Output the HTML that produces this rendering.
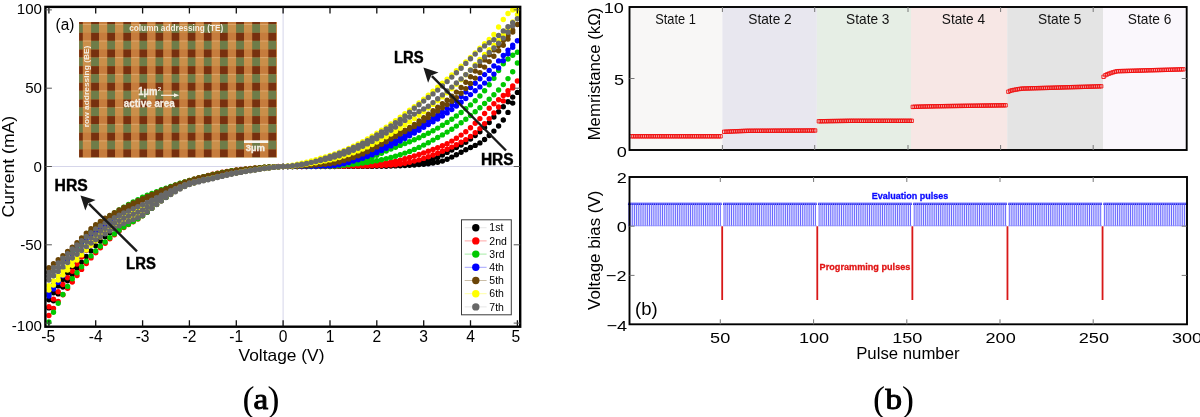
<!DOCTYPE html>
<html><head><meta charset="utf-8"><title>Figure</title>
<style>html,body{margin:0;padding:0;background:#fff;}svg{display:block;}</style>
</head><body>
<svg width="1200" height="417" viewBox="0 0 1200 417">
<rect x="0" y="0" width="1200" height="417" fill="#fff"/>
<line x1="45.4" y1="166.5" x2="520.2" y2="166.5" stroke="#d6d6ea" stroke-width="1"/>
<line x1="283.1" y1="6.9" x2="283.1" y2="326.7" stroke="#d6d6ea" stroke-width="1"/>
<g><clipPath id="ic"><rect x="79.1" y="22.0" width="197.79999999999998" height="135.6"/></clipPath>
<g clip-path="url(#ic)">
<rect x="79.1" y="22.0" width="197.79999999999998" height="135.6" fill="#c98a42"/>
<rect x="74.99" y="-9.10" width="7.90" height="8.65" fill="#6e7c48"/>
<rect x="74.99" y="-0.45" width="7.90" height="8.00" fill="#77300f"/>
<rect x="82.89" y="-9.10" width="8.21" height="8.65" fill="#ca8f4a"/>
<rect x="82.89" y="-0.45" width="8.21" height="8.00" fill="#c67c3d"/>
<rect x="82.89" y="-9.40" width="8.21" height="0.9" fill="#dfac74"/>
<rect x="91.10" y="-9.10" width="7.90" height="8.65" fill="#6e7c48"/>
<rect x="91.10" y="-0.45" width="7.90" height="8.00" fill="#77300f"/>
<rect x="99.00" y="-9.10" width="8.21" height="8.65" fill="#ca8f4a"/>
<rect x="99.00" y="-0.45" width="8.21" height="8.00" fill="#c67c3d"/>
<rect x="99.00" y="-9.40" width="8.21" height="0.9" fill="#dfac74"/>
<rect x="107.21" y="-9.10" width="7.90" height="8.65" fill="#6e7c48"/>
<rect x="107.21" y="-0.45" width="7.90" height="8.00" fill="#77300f"/>
<rect x="115.11" y="-9.10" width="8.21" height="8.65" fill="#ca8f4a"/>
<rect x="115.11" y="-0.45" width="8.21" height="8.00" fill="#c67c3d"/>
<rect x="115.11" y="-9.40" width="8.21" height="0.9" fill="#dfac74"/>
<rect x="123.32" y="-9.10" width="7.90" height="8.65" fill="#6e7c48"/>
<rect x="123.32" y="-0.45" width="7.90" height="8.00" fill="#77300f"/>
<rect x="131.22" y="-9.10" width="8.21" height="8.65" fill="#ca8f4a"/>
<rect x="131.22" y="-0.45" width="8.21" height="8.00" fill="#c67c3d"/>
<rect x="131.22" y="-9.40" width="8.21" height="0.9" fill="#dfac74"/>
<rect x="139.43" y="-9.10" width="7.90" height="8.65" fill="#6e7c48"/>
<rect x="139.43" y="-0.45" width="7.90" height="8.00" fill="#77300f"/>
<rect x="147.33" y="-9.10" width="8.21" height="8.65" fill="#ca8f4a"/>
<rect x="147.33" y="-0.45" width="8.21" height="8.00" fill="#c67c3d"/>
<rect x="147.33" y="-9.40" width="8.21" height="0.9" fill="#dfac74"/>
<rect x="155.54" y="-9.10" width="7.90" height="8.65" fill="#6e7c48"/>
<rect x="155.54" y="-0.45" width="7.90" height="8.00" fill="#77300f"/>
<rect x="163.44" y="-9.10" width="8.21" height="8.65" fill="#ca8f4a"/>
<rect x="163.44" y="-0.45" width="8.21" height="8.00" fill="#c67c3d"/>
<rect x="163.44" y="-9.40" width="8.21" height="0.9" fill="#dfac74"/>
<rect x="171.65" y="-9.10" width="7.90" height="8.65" fill="#6e7c48"/>
<rect x="171.65" y="-0.45" width="7.90" height="8.00" fill="#77300f"/>
<rect x="179.55" y="-9.10" width="8.21" height="8.65" fill="#ca8f4a"/>
<rect x="179.55" y="-0.45" width="8.21" height="8.00" fill="#c67c3d"/>
<rect x="179.55" y="-9.40" width="8.21" height="0.9" fill="#dfac74"/>
<rect x="187.76" y="-9.10" width="7.90" height="8.65" fill="#6e7c48"/>
<rect x="187.76" y="-0.45" width="7.90" height="8.00" fill="#77300f"/>
<rect x="195.66" y="-9.10" width="8.21" height="8.65" fill="#ca8f4a"/>
<rect x="195.66" y="-0.45" width="8.21" height="8.00" fill="#c67c3d"/>
<rect x="195.66" y="-9.40" width="8.21" height="0.9" fill="#dfac74"/>
<rect x="203.87" y="-9.10" width="7.90" height="8.65" fill="#6e7c48"/>
<rect x="203.87" y="-0.45" width="7.90" height="8.00" fill="#77300f"/>
<rect x="211.77" y="-9.10" width="8.21" height="8.65" fill="#ca8f4a"/>
<rect x="211.77" y="-0.45" width="8.21" height="8.00" fill="#c67c3d"/>
<rect x="211.77" y="-9.40" width="8.21" height="0.9" fill="#dfac74"/>
<rect x="219.98" y="-9.10" width="7.90" height="8.65" fill="#6e7c48"/>
<rect x="219.98" y="-0.45" width="7.90" height="8.00" fill="#77300f"/>
<rect x="227.88" y="-9.10" width="8.21" height="8.65" fill="#ca8f4a"/>
<rect x="227.88" y="-0.45" width="8.21" height="8.00" fill="#c67c3d"/>
<rect x="227.88" y="-9.40" width="8.21" height="0.9" fill="#dfac74"/>
<rect x="236.09" y="-9.10" width="7.90" height="8.65" fill="#6e7c48"/>
<rect x="236.09" y="-0.45" width="7.90" height="8.00" fill="#77300f"/>
<rect x="243.99" y="-9.10" width="8.21" height="8.65" fill="#ca8f4a"/>
<rect x="243.99" y="-0.45" width="8.21" height="8.00" fill="#c67c3d"/>
<rect x="243.99" y="-9.40" width="8.21" height="0.9" fill="#dfac74"/>
<rect x="252.20" y="-9.10" width="7.90" height="8.65" fill="#6e7c48"/>
<rect x="252.20" y="-0.45" width="7.90" height="8.00" fill="#77300f"/>
<rect x="260.10" y="-9.10" width="8.21" height="8.65" fill="#ca8f4a"/>
<rect x="260.10" y="-0.45" width="8.21" height="8.00" fill="#c67c3d"/>
<rect x="260.10" y="-9.40" width="8.21" height="0.9" fill="#dfac74"/>
<rect x="268.31" y="-9.10" width="7.90" height="8.65" fill="#6e7c48"/>
<rect x="268.31" y="-0.45" width="7.90" height="8.00" fill="#77300f"/>
<rect x="276.21" y="-9.10" width="8.21" height="8.65" fill="#ca8f4a"/>
<rect x="276.21" y="-0.45" width="8.21" height="8.00" fill="#c67c3d"/>
<rect x="276.21" y="-9.40" width="8.21" height="0.9" fill="#dfac74"/>
<rect x="284.42" y="-9.10" width="7.90" height="8.65" fill="#6e7c48"/>
<rect x="284.42" y="-0.45" width="7.90" height="8.00" fill="#77300f"/>
<rect x="292.32" y="-9.10" width="8.21" height="8.65" fill="#ca8f4a"/>
<rect x="292.32" y="-0.45" width="8.21" height="8.00" fill="#c67c3d"/>
<rect x="292.32" y="-9.40" width="8.21" height="0.9" fill="#dfac74"/>
<rect x="74.99" y="7.55" width="7.90" height="8.65" fill="#6e7c48"/>
<rect x="74.99" y="16.20" width="7.90" height="8.00" fill="#77300f"/>
<rect x="82.89" y="7.55" width="8.21" height="8.65" fill="#ca8f4a"/>
<rect x="82.89" y="16.20" width="8.21" height="8.00" fill="#c67c3d"/>
<rect x="82.89" y="7.25" width="8.21" height="0.9" fill="#dfac74"/>
<rect x="91.10" y="7.55" width="7.90" height="8.65" fill="#6e7c48"/>
<rect x="91.10" y="16.20" width="7.90" height="8.00" fill="#77300f"/>
<rect x="99.00" y="7.55" width="8.21" height="8.65" fill="#ca8f4a"/>
<rect x="99.00" y="16.20" width="8.21" height="8.00" fill="#c67c3d"/>
<rect x="99.00" y="7.25" width="8.21" height="0.9" fill="#dfac74"/>
<rect x="107.21" y="7.55" width="7.90" height="8.65" fill="#6e7c48"/>
<rect x="107.21" y="16.20" width="7.90" height="8.00" fill="#77300f"/>
<rect x="115.11" y="7.55" width="8.21" height="8.65" fill="#ca8f4a"/>
<rect x="115.11" y="16.20" width="8.21" height="8.00" fill="#c67c3d"/>
<rect x="115.11" y="7.25" width="8.21" height="0.9" fill="#dfac74"/>
<rect x="123.32" y="7.55" width="7.90" height="8.65" fill="#6e7c48"/>
<rect x="123.32" y="16.20" width="7.90" height="8.00" fill="#77300f"/>
<rect x="131.22" y="7.55" width="8.21" height="8.65" fill="#ca8f4a"/>
<rect x="131.22" y="16.20" width="8.21" height="8.00" fill="#c67c3d"/>
<rect x="131.22" y="7.25" width="8.21" height="0.9" fill="#dfac74"/>
<rect x="139.43" y="7.55" width="7.90" height="8.65" fill="#6e7c48"/>
<rect x="139.43" y="16.20" width="7.90" height="8.00" fill="#77300f"/>
<rect x="147.33" y="7.55" width="8.21" height="8.65" fill="#ca8f4a"/>
<rect x="147.33" y="16.20" width="8.21" height="8.00" fill="#c67c3d"/>
<rect x="147.33" y="7.25" width="8.21" height="0.9" fill="#dfac74"/>
<rect x="155.54" y="7.55" width="7.90" height="8.65" fill="#6e7c48"/>
<rect x="155.54" y="16.20" width="7.90" height="8.00" fill="#77300f"/>
<rect x="163.44" y="7.55" width="8.21" height="8.65" fill="#ca8f4a"/>
<rect x="163.44" y="16.20" width="8.21" height="8.00" fill="#c67c3d"/>
<rect x="163.44" y="7.25" width="8.21" height="0.9" fill="#dfac74"/>
<rect x="171.65" y="7.55" width="7.90" height="8.65" fill="#6e7c48"/>
<rect x="171.65" y="16.20" width="7.90" height="8.00" fill="#77300f"/>
<rect x="179.55" y="7.55" width="8.21" height="8.65" fill="#ca8f4a"/>
<rect x="179.55" y="16.20" width="8.21" height="8.00" fill="#c67c3d"/>
<rect x="179.55" y="7.25" width="8.21" height="0.9" fill="#dfac74"/>
<rect x="187.76" y="7.55" width="7.90" height="8.65" fill="#6e7c48"/>
<rect x="187.76" y="16.20" width="7.90" height="8.00" fill="#77300f"/>
<rect x="195.66" y="7.55" width="8.21" height="8.65" fill="#ca8f4a"/>
<rect x="195.66" y="16.20" width="8.21" height="8.00" fill="#c67c3d"/>
<rect x="195.66" y="7.25" width="8.21" height="0.9" fill="#dfac74"/>
<rect x="203.87" y="7.55" width="7.90" height="8.65" fill="#6e7c48"/>
<rect x="203.87" y="16.20" width="7.90" height="8.00" fill="#77300f"/>
<rect x="211.77" y="7.55" width="8.21" height="8.65" fill="#ca8f4a"/>
<rect x="211.77" y="16.20" width="8.21" height="8.00" fill="#c67c3d"/>
<rect x="211.77" y="7.25" width="8.21" height="0.9" fill="#dfac74"/>
<rect x="219.98" y="7.55" width="7.90" height="8.65" fill="#6e7c48"/>
<rect x="219.98" y="16.20" width="7.90" height="8.00" fill="#77300f"/>
<rect x="227.88" y="7.55" width="8.21" height="8.65" fill="#ca8f4a"/>
<rect x="227.88" y="16.20" width="8.21" height="8.00" fill="#c67c3d"/>
<rect x="227.88" y="7.25" width="8.21" height="0.9" fill="#dfac74"/>
<rect x="236.09" y="7.55" width="7.90" height="8.65" fill="#6e7c48"/>
<rect x="236.09" y="16.20" width="7.90" height="8.00" fill="#77300f"/>
<rect x="243.99" y="7.55" width="8.21" height="8.65" fill="#ca8f4a"/>
<rect x="243.99" y="16.20" width="8.21" height="8.00" fill="#c67c3d"/>
<rect x="243.99" y="7.25" width="8.21" height="0.9" fill="#dfac74"/>
<rect x="252.20" y="7.55" width="7.90" height="8.65" fill="#6e7c48"/>
<rect x="252.20" y="16.20" width="7.90" height="8.00" fill="#77300f"/>
<rect x="260.10" y="7.55" width="8.21" height="8.65" fill="#ca8f4a"/>
<rect x="260.10" y="16.20" width="8.21" height="8.00" fill="#c67c3d"/>
<rect x="260.10" y="7.25" width="8.21" height="0.9" fill="#dfac74"/>
<rect x="268.31" y="7.55" width="7.90" height="8.65" fill="#6e7c48"/>
<rect x="268.31" y="16.20" width="7.90" height="8.00" fill="#77300f"/>
<rect x="276.21" y="7.55" width="8.21" height="8.65" fill="#ca8f4a"/>
<rect x="276.21" y="16.20" width="8.21" height="8.00" fill="#c67c3d"/>
<rect x="276.21" y="7.25" width="8.21" height="0.9" fill="#dfac74"/>
<rect x="284.42" y="7.55" width="7.90" height="8.65" fill="#6e7c48"/>
<rect x="284.42" y="16.20" width="7.90" height="8.00" fill="#77300f"/>
<rect x="292.32" y="7.55" width="8.21" height="8.65" fill="#ca8f4a"/>
<rect x="292.32" y="16.20" width="8.21" height="8.00" fill="#c67c3d"/>
<rect x="292.32" y="7.25" width="8.21" height="0.9" fill="#dfac74"/>
<rect x="74.99" y="24.20" width="7.90" height="8.65" fill="#6e7c48"/>
<rect x="74.99" y="32.85" width="7.90" height="8.00" fill="#77300f"/>
<rect x="82.89" y="24.20" width="8.21" height="8.65" fill="#ca8f4a"/>
<rect x="82.89" y="32.85" width="8.21" height="8.00" fill="#c67c3d"/>
<rect x="82.89" y="23.90" width="8.21" height="0.9" fill="#dfac74"/>
<rect x="91.10" y="24.20" width="7.90" height="8.65" fill="#6e7c48"/>
<rect x="91.10" y="32.85" width="7.90" height="8.00" fill="#77300f"/>
<rect x="99.00" y="24.20" width="8.21" height="8.65" fill="#ca8f4a"/>
<rect x="99.00" y="32.85" width="8.21" height="8.00" fill="#c67c3d"/>
<rect x="99.00" y="23.90" width="8.21" height="0.9" fill="#dfac74"/>
<rect x="107.21" y="24.20" width="7.90" height="8.65" fill="#6e7c48"/>
<rect x="107.21" y="32.85" width="7.90" height="8.00" fill="#77300f"/>
<rect x="115.11" y="24.20" width="8.21" height="8.65" fill="#ca8f4a"/>
<rect x="115.11" y="32.85" width="8.21" height="8.00" fill="#c67c3d"/>
<rect x="115.11" y="23.90" width="8.21" height="0.9" fill="#dfac74"/>
<rect x="123.32" y="24.20" width="7.90" height="8.65" fill="#6e7c48"/>
<rect x="123.32" y="32.85" width="7.90" height="8.00" fill="#77300f"/>
<rect x="131.22" y="24.20" width="8.21" height="8.65" fill="#ca8f4a"/>
<rect x="131.22" y="32.85" width="8.21" height="8.00" fill="#c67c3d"/>
<rect x="131.22" y="23.90" width="8.21" height="0.9" fill="#dfac74"/>
<rect x="139.43" y="24.20" width="7.90" height="8.65" fill="#6e7c48"/>
<rect x="139.43" y="32.85" width="7.90" height="8.00" fill="#77300f"/>
<rect x="147.33" y="24.20" width="8.21" height="8.65" fill="#ca8f4a"/>
<rect x="147.33" y="32.85" width="8.21" height="8.00" fill="#c67c3d"/>
<rect x="147.33" y="23.90" width="8.21" height="0.9" fill="#dfac74"/>
<rect x="155.54" y="24.20" width="7.90" height="8.65" fill="#6e7c48"/>
<rect x="155.54" y="32.85" width="7.90" height="8.00" fill="#77300f"/>
<rect x="163.44" y="24.20" width="8.21" height="8.65" fill="#ca8f4a"/>
<rect x="163.44" y="32.85" width="8.21" height="8.00" fill="#c67c3d"/>
<rect x="163.44" y="23.90" width="8.21" height="0.9" fill="#dfac74"/>
<rect x="171.65" y="24.20" width="7.90" height="8.65" fill="#6e7c48"/>
<rect x="171.65" y="32.85" width="7.90" height="8.00" fill="#77300f"/>
<rect x="179.55" y="24.20" width="8.21" height="8.65" fill="#ca8f4a"/>
<rect x="179.55" y="32.85" width="8.21" height="8.00" fill="#c67c3d"/>
<rect x="179.55" y="23.90" width="8.21" height="0.9" fill="#dfac74"/>
<rect x="187.76" y="24.20" width="7.90" height="8.65" fill="#6e7c48"/>
<rect x="187.76" y="32.85" width="7.90" height="8.00" fill="#77300f"/>
<rect x="195.66" y="24.20" width="8.21" height="8.65" fill="#ca8f4a"/>
<rect x="195.66" y="32.85" width="8.21" height="8.00" fill="#c67c3d"/>
<rect x="195.66" y="23.90" width="8.21" height="0.9" fill="#dfac74"/>
<rect x="203.87" y="24.20" width="7.90" height="8.65" fill="#6e7c48"/>
<rect x="203.87" y="32.85" width="7.90" height="8.00" fill="#77300f"/>
<rect x="211.77" y="24.20" width="8.21" height="8.65" fill="#ca8f4a"/>
<rect x="211.77" y="32.85" width="8.21" height="8.00" fill="#c67c3d"/>
<rect x="211.77" y="23.90" width="8.21" height="0.9" fill="#dfac74"/>
<rect x="219.98" y="24.20" width="7.90" height="8.65" fill="#6e7c48"/>
<rect x="219.98" y="32.85" width="7.90" height="8.00" fill="#77300f"/>
<rect x="227.88" y="24.20" width="8.21" height="8.65" fill="#ca8f4a"/>
<rect x="227.88" y="32.85" width="8.21" height="8.00" fill="#c67c3d"/>
<rect x="227.88" y="23.90" width="8.21" height="0.9" fill="#dfac74"/>
<rect x="236.09" y="24.20" width="7.90" height="8.65" fill="#6e7c48"/>
<rect x="236.09" y="32.85" width="7.90" height="8.00" fill="#77300f"/>
<rect x="243.99" y="24.20" width="8.21" height="8.65" fill="#ca8f4a"/>
<rect x="243.99" y="32.85" width="8.21" height="8.00" fill="#c67c3d"/>
<rect x="243.99" y="23.90" width="8.21" height="0.9" fill="#dfac74"/>
<rect x="252.20" y="24.20" width="7.90" height="8.65" fill="#6e7c48"/>
<rect x="252.20" y="32.85" width="7.90" height="8.00" fill="#77300f"/>
<rect x="260.10" y="24.20" width="8.21" height="8.65" fill="#ca8f4a"/>
<rect x="260.10" y="32.85" width="8.21" height="8.00" fill="#c67c3d"/>
<rect x="260.10" y="23.90" width="8.21" height="0.9" fill="#dfac74"/>
<rect x="268.31" y="24.20" width="7.90" height="8.65" fill="#6e7c48"/>
<rect x="268.31" y="32.85" width="7.90" height="8.00" fill="#77300f"/>
<rect x="276.21" y="24.20" width="8.21" height="8.65" fill="#ca8f4a"/>
<rect x="276.21" y="32.85" width="8.21" height="8.00" fill="#c67c3d"/>
<rect x="276.21" y="23.90" width="8.21" height="0.9" fill="#dfac74"/>
<rect x="284.42" y="24.20" width="7.90" height="8.65" fill="#6e7c48"/>
<rect x="284.42" y="32.85" width="7.90" height="8.00" fill="#77300f"/>
<rect x="292.32" y="24.20" width="8.21" height="8.65" fill="#ca8f4a"/>
<rect x="292.32" y="32.85" width="8.21" height="8.00" fill="#c67c3d"/>
<rect x="292.32" y="23.90" width="8.21" height="0.9" fill="#dfac74"/>
<rect x="74.99" y="40.85" width="7.90" height="8.65" fill="#6e7c48"/>
<rect x="74.99" y="49.50" width="7.90" height="8.00" fill="#77300f"/>
<rect x="82.89" y="40.85" width="8.21" height="8.65" fill="#ca8f4a"/>
<rect x="82.89" y="49.50" width="8.21" height="8.00" fill="#c67c3d"/>
<rect x="82.89" y="40.55" width="8.21" height="0.9" fill="#dfac74"/>
<rect x="91.10" y="40.85" width="7.90" height="8.65" fill="#6e7c48"/>
<rect x="91.10" y="49.50" width="7.90" height="8.00" fill="#77300f"/>
<rect x="99.00" y="40.85" width="8.21" height="8.65" fill="#ca8f4a"/>
<rect x="99.00" y="49.50" width="8.21" height="8.00" fill="#c67c3d"/>
<rect x="99.00" y="40.55" width="8.21" height="0.9" fill="#dfac74"/>
<rect x="107.21" y="40.85" width="7.90" height="8.65" fill="#6e7c48"/>
<rect x="107.21" y="49.50" width="7.90" height="8.00" fill="#77300f"/>
<rect x="115.11" y="40.85" width="8.21" height="8.65" fill="#ca8f4a"/>
<rect x="115.11" y="49.50" width="8.21" height="8.00" fill="#c67c3d"/>
<rect x="115.11" y="40.55" width="8.21" height="0.9" fill="#dfac74"/>
<rect x="123.32" y="40.85" width="7.90" height="8.65" fill="#6e7c48"/>
<rect x="123.32" y="49.50" width="7.90" height="8.00" fill="#77300f"/>
<rect x="131.22" y="40.85" width="8.21" height="8.65" fill="#ca8f4a"/>
<rect x="131.22" y="49.50" width="8.21" height="8.00" fill="#c67c3d"/>
<rect x="131.22" y="40.55" width="8.21" height="0.9" fill="#dfac74"/>
<rect x="139.43" y="40.85" width="7.90" height="8.65" fill="#6e7c48"/>
<rect x="139.43" y="49.50" width="7.90" height="8.00" fill="#77300f"/>
<rect x="147.33" y="40.85" width="8.21" height="8.65" fill="#ca8f4a"/>
<rect x="147.33" y="49.50" width="8.21" height="8.00" fill="#c67c3d"/>
<rect x="147.33" y="40.55" width="8.21" height="0.9" fill="#dfac74"/>
<rect x="155.54" y="40.85" width="7.90" height="8.65" fill="#6e7c48"/>
<rect x="155.54" y="49.50" width="7.90" height="8.00" fill="#77300f"/>
<rect x="163.44" y="40.85" width="8.21" height="8.65" fill="#ca8f4a"/>
<rect x="163.44" y="49.50" width="8.21" height="8.00" fill="#c67c3d"/>
<rect x="163.44" y="40.55" width="8.21" height="0.9" fill="#dfac74"/>
<rect x="171.65" y="40.85" width="7.90" height="8.65" fill="#6e7c48"/>
<rect x="171.65" y="49.50" width="7.90" height="8.00" fill="#77300f"/>
<rect x="179.55" y="40.85" width="8.21" height="8.65" fill="#ca8f4a"/>
<rect x="179.55" y="49.50" width="8.21" height="8.00" fill="#c67c3d"/>
<rect x="179.55" y="40.55" width="8.21" height="0.9" fill="#dfac74"/>
<rect x="187.76" y="40.85" width="7.90" height="8.65" fill="#6e7c48"/>
<rect x="187.76" y="49.50" width="7.90" height="8.00" fill="#77300f"/>
<rect x="195.66" y="40.85" width="8.21" height="8.65" fill="#ca8f4a"/>
<rect x="195.66" y="49.50" width="8.21" height="8.00" fill="#c67c3d"/>
<rect x="195.66" y="40.55" width="8.21" height="0.9" fill="#dfac74"/>
<rect x="203.87" y="40.85" width="7.90" height="8.65" fill="#6e7c48"/>
<rect x="203.87" y="49.50" width="7.90" height="8.00" fill="#77300f"/>
<rect x="211.77" y="40.85" width="8.21" height="8.65" fill="#ca8f4a"/>
<rect x="211.77" y="49.50" width="8.21" height="8.00" fill="#c67c3d"/>
<rect x="211.77" y="40.55" width="8.21" height="0.9" fill="#dfac74"/>
<rect x="219.98" y="40.85" width="7.90" height="8.65" fill="#6e7c48"/>
<rect x="219.98" y="49.50" width="7.90" height="8.00" fill="#77300f"/>
<rect x="227.88" y="40.85" width="8.21" height="8.65" fill="#ca8f4a"/>
<rect x="227.88" y="49.50" width="8.21" height="8.00" fill="#c67c3d"/>
<rect x="227.88" y="40.55" width="8.21" height="0.9" fill="#dfac74"/>
<rect x="236.09" y="40.85" width="7.90" height="8.65" fill="#6e7c48"/>
<rect x="236.09" y="49.50" width="7.90" height="8.00" fill="#77300f"/>
<rect x="243.99" y="40.85" width="8.21" height="8.65" fill="#ca8f4a"/>
<rect x="243.99" y="49.50" width="8.21" height="8.00" fill="#c67c3d"/>
<rect x="243.99" y="40.55" width="8.21" height="0.9" fill="#dfac74"/>
<rect x="252.20" y="40.85" width="7.90" height="8.65" fill="#6e7c48"/>
<rect x="252.20" y="49.50" width="7.90" height="8.00" fill="#77300f"/>
<rect x="260.10" y="40.85" width="8.21" height="8.65" fill="#ca8f4a"/>
<rect x="260.10" y="49.50" width="8.21" height="8.00" fill="#c67c3d"/>
<rect x="260.10" y="40.55" width="8.21" height="0.9" fill="#dfac74"/>
<rect x="268.31" y="40.85" width="7.90" height="8.65" fill="#6e7c48"/>
<rect x="268.31" y="49.50" width="7.90" height="8.00" fill="#77300f"/>
<rect x="276.21" y="40.85" width="8.21" height="8.65" fill="#ca8f4a"/>
<rect x="276.21" y="49.50" width="8.21" height="8.00" fill="#c67c3d"/>
<rect x="276.21" y="40.55" width="8.21" height="0.9" fill="#dfac74"/>
<rect x="284.42" y="40.85" width="7.90" height="8.65" fill="#6e7c48"/>
<rect x="284.42" y="49.50" width="7.90" height="8.00" fill="#77300f"/>
<rect x="292.32" y="40.85" width="8.21" height="8.65" fill="#ca8f4a"/>
<rect x="292.32" y="49.50" width="8.21" height="8.00" fill="#c67c3d"/>
<rect x="292.32" y="40.55" width="8.21" height="0.9" fill="#dfac74"/>
<rect x="74.99" y="57.50" width="7.90" height="8.65" fill="#6e7c48"/>
<rect x="74.99" y="66.15" width="7.90" height="8.00" fill="#77300f"/>
<rect x="82.89" y="57.50" width="8.21" height="8.65" fill="#ca8f4a"/>
<rect x="82.89" y="66.15" width="8.21" height="8.00" fill="#c67c3d"/>
<rect x="82.89" y="57.20" width="8.21" height="0.9" fill="#dfac74"/>
<rect x="91.10" y="57.50" width="7.90" height="8.65" fill="#6e7c48"/>
<rect x="91.10" y="66.15" width="7.90" height="8.00" fill="#77300f"/>
<rect x="99.00" y="57.50" width="8.21" height="8.65" fill="#ca8f4a"/>
<rect x="99.00" y="66.15" width="8.21" height="8.00" fill="#c67c3d"/>
<rect x="99.00" y="57.20" width="8.21" height="0.9" fill="#dfac74"/>
<rect x="107.21" y="57.50" width="7.90" height="8.65" fill="#6e7c48"/>
<rect x="107.21" y="66.15" width="7.90" height="8.00" fill="#77300f"/>
<rect x="115.11" y="57.50" width="8.21" height="8.65" fill="#ca8f4a"/>
<rect x="115.11" y="66.15" width="8.21" height="8.00" fill="#c67c3d"/>
<rect x="115.11" y="57.20" width="8.21" height="0.9" fill="#dfac74"/>
<rect x="123.32" y="57.50" width="7.90" height="8.65" fill="#6e7c48"/>
<rect x="123.32" y="66.15" width="7.90" height="8.00" fill="#77300f"/>
<rect x="131.22" y="57.50" width="8.21" height="8.65" fill="#ca8f4a"/>
<rect x="131.22" y="66.15" width="8.21" height="8.00" fill="#c67c3d"/>
<rect x="131.22" y="57.20" width="8.21" height="0.9" fill="#dfac74"/>
<rect x="139.43" y="57.50" width="7.90" height="8.65" fill="#6e7c48"/>
<rect x="139.43" y="66.15" width="7.90" height="8.00" fill="#77300f"/>
<rect x="147.33" y="57.50" width="8.21" height="8.65" fill="#ca8f4a"/>
<rect x="147.33" y="66.15" width="8.21" height="8.00" fill="#c67c3d"/>
<rect x="147.33" y="57.20" width="8.21" height="0.9" fill="#dfac74"/>
<rect x="155.54" y="57.50" width="7.90" height="8.65" fill="#6e7c48"/>
<rect x="155.54" y="66.15" width="7.90" height="8.00" fill="#77300f"/>
<rect x="163.44" y="57.50" width="8.21" height="8.65" fill="#ca8f4a"/>
<rect x="163.44" y="66.15" width="8.21" height="8.00" fill="#c67c3d"/>
<rect x="163.44" y="57.20" width="8.21" height="0.9" fill="#dfac74"/>
<rect x="171.65" y="57.50" width="7.90" height="8.65" fill="#6e7c48"/>
<rect x="171.65" y="66.15" width="7.90" height="8.00" fill="#77300f"/>
<rect x="179.55" y="57.50" width="8.21" height="8.65" fill="#ca8f4a"/>
<rect x="179.55" y="66.15" width="8.21" height="8.00" fill="#c67c3d"/>
<rect x="179.55" y="57.20" width="8.21" height="0.9" fill="#dfac74"/>
<rect x="187.76" y="57.50" width="7.90" height="8.65" fill="#6e7c48"/>
<rect x="187.76" y="66.15" width="7.90" height="8.00" fill="#77300f"/>
<rect x="195.66" y="57.50" width="8.21" height="8.65" fill="#ca8f4a"/>
<rect x="195.66" y="66.15" width="8.21" height="8.00" fill="#c67c3d"/>
<rect x="195.66" y="57.20" width="8.21" height="0.9" fill="#dfac74"/>
<rect x="203.87" y="57.50" width="7.90" height="8.65" fill="#6e7c48"/>
<rect x="203.87" y="66.15" width="7.90" height="8.00" fill="#77300f"/>
<rect x="211.77" y="57.50" width="8.21" height="8.65" fill="#ca8f4a"/>
<rect x="211.77" y="66.15" width="8.21" height="8.00" fill="#c67c3d"/>
<rect x="211.77" y="57.20" width="8.21" height="0.9" fill="#dfac74"/>
<rect x="219.98" y="57.50" width="7.90" height="8.65" fill="#6e7c48"/>
<rect x="219.98" y="66.15" width="7.90" height="8.00" fill="#77300f"/>
<rect x="227.88" y="57.50" width="8.21" height="8.65" fill="#ca8f4a"/>
<rect x="227.88" y="66.15" width="8.21" height="8.00" fill="#c67c3d"/>
<rect x="227.88" y="57.20" width="8.21" height="0.9" fill="#dfac74"/>
<rect x="236.09" y="57.50" width="7.90" height="8.65" fill="#6e7c48"/>
<rect x="236.09" y="66.15" width="7.90" height="8.00" fill="#77300f"/>
<rect x="243.99" y="57.50" width="8.21" height="8.65" fill="#ca8f4a"/>
<rect x="243.99" y="66.15" width="8.21" height="8.00" fill="#c67c3d"/>
<rect x="243.99" y="57.20" width="8.21" height="0.9" fill="#dfac74"/>
<rect x="252.20" y="57.50" width="7.90" height="8.65" fill="#6e7c48"/>
<rect x="252.20" y="66.15" width="7.90" height="8.00" fill="#77300f"/>
<rect x="260.10" y="57.50" width="8.21" height="8.65" fill="#ca8f4a"/>
<rect x="260.10" y="66.15" width="8.21" height="8.00" fill="#c67c3d"/>
<rect x="260.10" y="57.20" width="8.21" height="0.9" fill="#dfac74"/>
<rect x="268.31" y="57.50" width="7.90" height="8.65" fill="#6e7c48"/>
<rect x="268.31" y="66.15" width="7.90" height="8.00" fill="#77300f"/>
<rect x="276.21" y="57.50" width="8.21" height="8.65" fill="#ca8f4a"/>
<rect x="276.21" y="66.15" width="8.21" height="8.00" fill="#c67c3d"/>
<rect x="276.21" y="57.20" width="8.21" height="0.9" fill="#dfac74"/>
<rect x="284.42" y="57.50" width="7.90" height="8.65" fill="#6e7c48"/>
<rect x="284.42" y="66.15" width="7.90" height="8.00" fill="#77300f"/>
<rect x="292.32" y="57.50" width="8.21" height="8.65" fill="#ca8f4a"/>
<rect x="292.32" y="66.15" width="8.21" height="8.00" fill="#c67c3d"/>
<rect x="292.32" y="57.20" width="8.21" height="0.9" fill="#dfac74"/>
<rect x="74.99" y="74.15" width="7.90" height="8.65" fill="#6e7c48"/>
<rect x="74.99" y="82.80" width="7.90" height="8.00" fill="#77300f"/>
<rect x="82.89" y="74.15" width="8.21" height="8.65" fill="#ca8f4a"/>
<rect x="82.89" y="82.80" width="8.21" height="8.00" fill="#c67c3d"/>
<rect x="82.89" y="73.85" width="8.21" height="0.9" fill="#dfac74"/>
<rect x="91.10" y="74.15" width="7.90" height="8.65" fill="#6e7c48"/>
<rect x="91.10" y="82.80" width="7.90" height="8.00" fill="#77300f"/>
<rect x="99.00" y="74.15" width="8.21" height="8.65" fill="#ca8f4a"/>
<rect x="99.00" y="82.80" width="8.21" height="8.00" fill="#c67c3d"/>
<rect x="99.00" y="73.85" width="8.21" height="0.9" fill="#dfac74"/>
<rect x="107.21" y="74.15" width="7.90" height="8.65" fill="#6e7c48"/>
<rect x="107.21" y="82.80" width="7.90" height="8.00" fill="#77300f"/>
<rect x="115.11" y="74.15" width="8.21" height="8.65" fill="#ca8f4a"/>
<rect x="115.11" y="82.80" width="8.21" height="8.00" fill="#c67c3d"/>
<rect x="115.11" y="73.85" width="8.21" height="0.9" fill="#dfac74"/>
<rect x="123.32" y="74.15" width="7.90" height="8.65" fill="#6e7c48"/>
<rect x="123.32" y="82.80" width="7.90" height="8.00" fill="#77300f"/>
<rect x="131.22" y="74.15" width="8.21" height="8.65" fill="#ca8f4a"/>
<rect x="131.22" y="82.80" width="8.21" height="8.00" fill="#c67c3d"/>
<rect x="131.22" y="73.85" width="8.21" height="0.9" fill="#dfac74"/>
<rect x="139.43" y="74.15" width="7.90" height="8.65" fill="#6e7c48"/>
<rect x="139.43" y="82.80" width="7.90" height="8.00" fill="#77300f"/>
<rect x="147.33" y="74.15" width="8.21" height="8.65" fill="#ca8f4a"/>
<rect x="147.33" y="82.80" width="8.21" height="8.00" fill="#c67c3d"/>
<rect x="147.33" y="73.85" width="8.21" height="0.9" fill="#dfac74"/>
<rect x="155.54" y="74.15" width="7.90" height="8.65" fill="#6e7c48"/>
<rect x="155.54" y="82.80" width="7.90" height="8.00" fill="#77300f"/>
<rect x="163.44" y="74.15" width="8.21" height="8.65" fill="#ca8f4a"/>
<rect x="163.44" y="82.80" width="8.21" height="8.00" fill="#c67c3d"/>
<rect x="163.44" y="73.85" width="8.21" height="0.9" fill="#dfac74"/>
<rect x="171.65" y="74.15" width="7.90" height="8.65" fill="#6e7c48"/>
<rect x="171.65" y="82.80" width="7.90" height="8.00" fill="#77300f"/>
<rect x="179.55" y="74.15" width="8.21" height="8.65" fill="#ca8f4a"/>
<rect x="179.55" y="82.80" width="8.21" height="8.00" fill="#c67c3d"/>
<rect x="179.55" y="73.85" width="8.21" height="0.9" fill="#dfac74"/>
<rect x="187.76" y="74.15" width="7.90" height="8.65" fill="#6e7c48"/>
<rect x="187.76" y="82.80" width="7.90" height="8.00" fill="#77300f"/>
<rect x="195.66" y="74.15" width="8.21" height="8.65" fill="#ca8f4a"/>
<rect x="195.66" y="82.80" width="8.21" height="8.00" fill="#c67c3d"/>
<rect x="195.66" y="73.85" width="8.21" height="0.9" fill="#dfac74"/>
<rect x="203.87" y="74.15" width="7.90" height="8.65" fill="#6e7c48"/>
<rect x="203.87" y="82.80" width="7.90" height="8.00" fill="#77300f"/>
<rect x="211.77" y="74.15" width="8.21" height="8.65" fill="#ca8f4a"/>
<rect x="211.77" y="82.80" width="8.21" height="8.00" fill="#c67c3d"/>
<rect x="211.77" y="73.85" width="8.21" height="0.9" fill="#dfac74"/>
<rect x="219.98" y="74.15" width="7.90" height="8.65" fill="#6e7c48"/>
<rect x="219.98" y="82.80" width="7.90" height="8.00" fill="#77300f"/>
<rect x="227.88" y="74.15" width="8.21" height="8.65" fill="#ca8f4a"/>
<rect x="227.88" y="82.80" width="8.21" height="8.00" fill="#c67c3d"/>
<rect x="227.88" y="73.85" width="8.21" height="0.9" fill="#dfac74"/>
<rect x="236.09" y="74.15" width="7.90" height="8.65" fill="#6e7c48"/>
<rect x="236.09" y="82.80" width="7.90" height="8.00" fill="#77300f"/>
<rect x="243.99" y="74.15" width="8.21" height="8.65" fill="#ca8f4a"/>
<rect x="243.99" y="82.80" width="8.21" height="8.00" fill="#c67c3d"/>
<rect x="243.99" y="73.85" width="8.21" height="0.9" fill="#dfac74"/>
<rect x="252.20" y="74.15" width="7.90" height="8.65" fill="#6e7c48"/>
<rect x="252.20" y="82.80" width="7.90" height="8.00" fill="#77300f"/>
<rect x="260.10" y="74.15" width="8.21" height="8.65" fill="#ca8f4a"/>
<rect x="260.10" y="82.80" width="8.21" height="8.00" fill="#c67c3d"/>
<rect x="260.10" y="73.85" width="8.21" height="0.9" fill="#dfac74"/>
<rect x="268.31" y="74.15" width="7.90" height="8.65" fill="#6e7c48"/>
<rect x="268.31" y="82.80" width="7.90" height="8.00" fill="#77300f"/>
<rect x="276.21" y="74.15" width="8.21" height="8.65" fill="#ca8f4a"/>
<rect x="276.21" y="82.80" width="8.21" height="8.00" fill="#c67c3d"/>
<rect x="276.21" y="73.85" width="8.21" height="0.9" fill="#dfac74"/>
<rect x="284.42" y="74.15" width="7.90" height="8.65" fill="#6e7c48"/>
<rect x="284.42" y="82.80" width="7.90" height="8.00" fill="#77300f"/>
<rect x="292.32" y="74.15" width="8.21" height="8.65" fill="#ca8f4a"/>
<rect x="292.32" y="82.80" width="8.21" height="8.00" fill="#c67c3d"/>
<rect x="292.32" y="73.85" width="8.21" height="0.9" fill="#dfac74"/>
<rect x="74.99" y="90.80" width="7.90" height="8.65" fill="#6e7c48"/>
<rect x="74.99" y="99.45" width="7.90" height="8.00" fill="#77300f"/>
<rect x="82.89" y="90.80" width="8.21" height="8.65" fill="#ca8f4a"/>
<rect x="82.89" y="99.45" width="8.21" height="8.00" fill="#c67c3d"/>
<rect x="82.89" y="90.50" width="8.21" height="0.9" fill="#dfac74"/>
<rect x="91.10" y="90.80" width="7.90" height="8.65" fill="#6e7c48"/>
<rect x="91.10" y="99.45" width="7.90" height="8.00" fill="#77300f"/>
<rect x="99.00" y="90.80" width="8.21" height="8.65" fill="#ca8f4a"/>
<rect x="99.00" y="99.45" width="8.21" height="8.00" fill="#c67c3d"/>
<rect x="99.00" y="90.50" width="8.21" height="0.9" fill="#dfac74"/>
<rect x="107.21" y="90.80" width="7.90" height="8.65" fill="#6e7c48"/>
<rect x="107.21" y="99.45" width="7.90" height="8.00" fill="#77300f"/>
<rect x="115.11" y="90.80" width="8.21" height="8.65" fill="#ca8f4a"/>
<rect x="115.11" y="99.45" width="8.21" height="8.00" fill="#c67c3d"/>
<rect x="115.11" y="90.50" width="8.21" height="0.9" fill="#dfac74"/>
<rect x="123.32" y="90.80" width="7.90" height="8.65" fill="#6e7c48"/>
<rect x="123.32" y="99.45" width="7.90" height="8.00" fill="#77300f"/>
<rect x="131.22" y="90.80" width="8.21" height="8.65" fill="#ca8f4a"/>
<rect x="131.22" y="99.45" width="8.21" height="8.00" fill="#c67c3d"/>
<rect x="131.22" y="90.50" width="8.21" height="0.9" fill="#dfac74"/>
<rect x="139.43" y="90.80" width="7.90" height="8.65" fill="#6e7c48"/>
<rect x="139.43" y="99.45" width="7.90" height="8.00" fill="#77300f"/>
<rect x="147.33" y="90.80" width="8.21" height="8.65" fill="#ca8f4a"/>
<rect x="147.33" y="99.45" width="8.21" height="8.00" fill="#c67c3d"/>
<rect x="147.33" y="90.50" width="8.21" height="0.9" fill="#dfac74"/>
<rect x="155.54" y="90.80" width="7.90" height="8.65" fill="#6e7c48"/>
<rect x="155.54" y="99.45" width="7.90" height="8.00" fill="#77300f"/>
<rect x="163.44" y="90.80" width="8.21" height="8.65" fill="#ca8f4a"/>
<rect x="163.44" y="99.45" width="8.21" height="8.00" fill="#c67c3d"/>
<rect x="163.44" y="90.50" width="8.21" height="0.9" fill="#dfac74"/>
<rect x="171.65" y="90.80" width="7.90" height="8.65" fill="#6e7c48"/>
<rect x="171.65" y="99.45" width="7.90" height="8.00" fill="#77300f"/>
<rect x="179.55" y="90.80" width="8.21" height="8.65" fill="#ca8f4a"/>
<rect x="179.55" y="99.45" width="8.21" height="8.00" fill="#c67c3d"/>
<rect x="179.55" y="90.50" width="8.21" height="0.9" fill="#dfac74"/>
<rect x="187.76" y="90.80" width="7.90" height="8.65" fill="#6e7c48"/>
<rect x="187.76" y="99.45" width="7.90" height="8.00" fill="#77300f"/>
<rect x="195.66" y="90.80" width="8.21" height="8.65" fill="#ca8f4a"/>
<rect x="195.66" y="99.45" width="8.21" height="8.00" fill="#c67c3d"/>
<rect x="195.66" y="90.50" width="8.21" height="0.9" fill="#dfac74"/>
<rect x="203.87" y="90.80" width="7.90" height="8.65" fill="#6e7c48"/>
<rect x="203.87" y="99.45" width="7.90" height="8.00" fill="#77300f"/>
<rect x="211.77" y="90.80" width="8.21" height="8.65" fill="#ca8f4a"/>
<rect x="211.77" y="99.45" width="8.21" height="8.00" fill="#c67c3d"/>
<rect x="211.77" y="90.50" width="8.21" height="0.9" fill="#dfac74"/>
<rect x="219.98" y="90.80" width="7.90" height="8.65" fill="#6e7c48"/>
<rect x="219.98" y="99.45" width="7.90" height="8.00" fill="#77300f"/>
<rect x="227.88" y="90.80" width="8.21" height="8.65" fill="#ca8f4a"/>
<rect x="227.88" y="99.45" width="8.21" height="8.00" fill="#c67c3d"/>
<rect x="227.88" y="90.50" width="8.21" height="0.9" fill="#dfac74"/>
<rect x="236.09" y="90.80" width="7.90" height="8.65" fill="#6e7c48"/>
<rect x="236.09" y="99.45" width="7.90" height="8.00" fill="#77300f"/>
<rect x="243.99" y="90.80" width="8.21" height="8.65" fill="#ca8f4a"/>
<rect x="243.99" y="99.45" width="8.21" height="8.00" fill="#c67c3d"/>
<rect x="243.99" y="90.50" width="8.21" height="0.9" fill="#dfac74"/>
<rect x="252.20" y="90.80" width="7.90" height="8.65" fill="#6e7c48"/>
<rect x="252.20" y="99.45" width="7.90" height="8.00" fill="#77300f"/>
<rect x="260.10" y="90.80" width="8.21" height="8.65" fill="#ca8f4a"/>
<rect x="260.10" y="99.45" width="8.21" height="8.00" fill="#c67c3d"/>
<rect x="260.10" y="90.50" width="8.21" height="0.9" fill="#dfac74"/>
<rect x="268.31" y="90.80" width="7.90" height="8.65" fill="#6e7c48"/>
<rect x="268.31" y="99.45" width="7.90" height="8.00" fill="#77300f"/>
<rect x="276.21" y="90.80" width="8.21" height="8.65" fill="#ca8f4a"/>
<rect x="276.21" y="99.45" width="8.21" height="8.00" fill="#c67c3d"/>
<rect x="276.21" y="90.50" width="8.21" height="0.9" fill="#dfac74"/>
<rect x="284.42" y="90.80" width="7.90" height="8.65" fill="#6e7c48"/>
<rect x="284.42" y="99.45" width="7.90" height="8.00" fill="#77300f"/>
<rect x="292.32" y="90.80" width="8.21" height="8.65" fill="#ca8f4a"/>
<rect x="292.32" y="99.45" width="8.21" height="8.00" fill="#c67c3d"/>
<rect x="292.32" y="90.50" width="8.21" height="0.9" fill="#dfac74"/>
<rect x="74.99" y="107.45" width="7.90" height="8.65" fill="#6e7c48"/>
<rect x="74.99" y="116.10" width="7.90" height="8.00" fill="#77300f"/>
<rect x="82.89" y="107.45" width="8.21" height="8.65" fill="#ca8f4a"/>
<rect x="82.89" y="116.10" width="8.21" height="8.00" fill="#c67c3d"/>
<rect x="82.89" y="107.15" width="8.21" height="0.9" fill="#dfac74"/>
<rect x="91.10" y="107.45" width="7.90" height="8.65" fill="#6e7c48"/>
<rect x="91.10" y="116.10" width="7.90" height="8.00" fill="#77300f"/>
<rect x="99.00" y="107.45" width="8.21" height="8.65" fill="#ca8f4a"/>
<rect x="99.00" y="116.10" width="8.21" height="8.00" fill="#c67c3d"/>
<rect x="99.00" y="107.15" width="8.21" height="0.9" fill="#dfac74"/>
<rect x="107.21" y="107.45" width="7.90" height="8.65" fill="#6e7c48"/>
<rect x="107.21" y="116.10" width="7.90" height="8.00" fill="#77300f"/>
<rect x="115.11" y="107.45" width="8.21" height="8.65" fill="#ca8f4a"/>
<rect x="115.11" y="116.10" width="8.21" height="8.00" fill="#c67c3d"/>
<rect x="115.11" y="107.15" width="8.21" height="0.9" fill="#dfac74"/>
<rect x="123.32" y="107.45" width="7.90" height="8.65" fill="#6e7c48"/>
<rect x="123.32" y="116.10" width="7.90" height="8.00" fill="#77300f"/>
<rect x="131.22" y="107.45" width="8.21" height="8.65" fill="#ca8f4a"/>
<rect x="131.22" y="116.10" width="8.21" height="8.00" fill="#c67c3d"/>
<rect x="131.22" y="107.15" width="8.21" height="0.9" fill="#dfac74"/>
<rect x="139.43" y="107.45" width="7.90" height="8.65" fill="#6e7c48"/>
<rect x="139.43" y="116.10" width="7.90" height="8.00" fill="#77300f"/>
<rect x="147.33" y="107.45" width="8.21" height="8.65" fill="#ca8f4a"/>
<rect x="147.33" y="116.10" width="8.21" height="8.00" fill="#c67c3d"/>
<rect x="147.33" y="107.15" width="8.21" height="0.9" fill="#dfac74"/>
<rect x="155.54" y="107.45" width="7.90" height="8.65" fill="#6e7c48"/>
<rect x="155.54" y="116.10" width="7.90" height="8.00" fill="#77300f"/>
<rect x="163.44" y="107.45" width="8.21" height="8.65" fill="#ca8f4a"/>
<rect x="163.44" y="116.10" width="8.21" height="8.00" fill="#c67c3d"/>
<rect x="163.44" y="107.15" width="8.21" height="0.9" fill="#dfac74"/>
<rect x="171.65" y="107.45" width="7.90" height="8.65" fill="#6e7c48"/>
<rect x="171.65" y="116.10" width="7.90" height="8.00" fill="#77300f"/>
<rect x="179.55" y="107.45" width="8.21" height="8.65" fill="#ca8f4a"/>
<rect x="179.55" y="116.10" width="8.21" height="8.00" fill="#c67c3d"/>
<rect x="179.55" y="107.15" width="8.21" height="0.9" fill="#dfac74"/>
<rect x="187.76" y="107.45" width="7.90" height="8.65" fill="#6e7c48"/>
<rect x="187.76" y="116.10" width="7.90" height="8.00" fill="#77300f"/>
<rect x="195.66" y="107.45" width="8.21" height="8.65" fill="#ca8f4a"/>
<rect x="195.66" y="116.10" width="8.21" height="8.00" fill="#c67c3d"/>
<rect x="195.66" y="107.15" width="8.21" height="0.9" fill="#dfac74"/>
<rect x="203.87" y="107.45" width="7.90" height="8.65" fill="#6e7c48"/>
<rect x="203.87" y="116.10" width="7.90" height="8.00" fill="#77300f"/>
<rect x="211.77" y="107.45" width="8.21" height="8.65" fill="#ca8f4a"/>
<rect x="211.77" y="116.10" width="8.21" height="8.00" fill="#c67c3d"/>
<rect x="211.77" y="107.15" width="8.21" height="0.9" fill="#dfac74"/>
<rect x="219.98" y="107.45" width="7.90" height="8.65" fill="#6e7c48"/>
<rect x="219.98" y="116.10" width="7.90" height="8.00" fill="#77300f"/>
<rect x="227.88" y="107.45" width="8.21" height="8.65" fill="#ca8f4a"/>
<rect x="227.88" y="116.10" width="8.21" height="8.00" fill="#c67c3d"/>
<rect x="227.88" y="107.15" width="8.21" height="0.9" fill="#dfac74"/>
<rect x="236.09" y="107.45" width="7.90" height="8.65" fill="#6e7c48"/>
<rect x="236.09" y="116.10" width="7.90" height="8.00" fill="#77300f"/>
<rect x="243.99" y="107.45" width="8.21" height="8.65" fill="#ca8f4a"/>
<rect x="243.99" y="116.10" width="8.21" height="8.00" fill="#c67c3d"/>
<rect x="243.99" y="107.15" width="8.21" height="0.9" fill="#dfac74"/>
<rect x="252.20" y="107.45" width="7.90" height="8.65" fill="#6e7c48"/>
<rect x="252.20" y="116.10" width="7.90" height="8.00" fill="#77300f"/>
<rect x="260.10" y="107.45" width="8.21" height="8.65" fill="#ca8f4a"/>
<rect x="260.10" y="116.10" width="8.21" height="8.00" fill="#c67c3d"/>
<rect x="260.10" y="107.15" width="8.21" height="0.9" fill="#dfac74"/>
<rect x="268.31" y="107.45" width="7.90" height="8.65" fill="#6e7c48"/>
<rect x="268.31" y="116.10" width="7.90" height="8.00" fill="#77300f"/>
<rect x="276.21" y="107.45" width="8.21" height="8.65" fill="#ca8f4a"/>
<rect x="276.21" y="116.10" width="8.21" height="8.00" fill="#c67c3d"/>
<rect x="276.21" y="107.15" width="8.21" height="0.9" fill="#dfac74"/>
<rect x="284.42" y="107.45" width="7.90" height="8.65" fill="#6e7c48"/>
<rect x="284.42" y="116.10" width="7.90" height="8.00" fill="#77300f"/>
<rect x="292.32" y="107.45" width="8.21" height="8.65" fill="#ca8f4a"/>
<rect x="292.32" y="116.10" width="8.21" height="8.00" fill="#c67c3d"/>
<rect x="292.32" y="107.15" width="8.21" height="0.9" fill="#dfac74"/>
<rect x="74.99" y="124.10" width="7.90" height="8.65" fill="#6e7c48"/>
<rect x="74.99" y="132.75" width="7.90" height="8.00" fill="#77300f"/>
<rect x="82.89" y="124.10" width="8.21" height="8.65" fill="#ca8f4a"/>
<rect x="82.89" y="132.75" width="8.21" height="8.00" fill="#c67c3d"/>
<rect x="82.89" y="123.80" width="8.21" height="0.9" fill="#dfac74"/>
<rect x="91.10" y="124.10" width="7.90" height="8.65" fill="#6e7c48"/>
<rect x="91.10" y="132.75" width="7.90" height="8.00" fill="#77300f"/>
<rect x="99.00" y="124.10" width="8.21" height="8.65" fill="#ca8f4a"/>
<rect x="99.00" y="132.75" width="8.21" height="8.00" fill="#c67c3d"/>
<rect x="99.00" y="123.80" width="8.21" height="0.9" fill="#dfac74"/>
<rect x="107.21" y="124.10" width="7.90" height="8.65" fill="#6e7c48"/>
<rect x="107.21" y="132.75" width="7.90" height="8.00" fill="#77300f"/>
<rect x="115.11" y="124.10" width="8.21" height="8.65" fill="#ca8f4a"/>
<rect x="115.11" y="132.75" width="8.21" height="8.00" fill="#c67c3d"/>
<rect x="115.11" y="123.80" width="8.21" height="0.9" fill="#dfac74"/>
<rect x="123.32" y="124.10" width="7.90" height="8.65" fill="#6e7c48"/>
<rect x="123.32" y="132.75" width="7.90" height="8.00" fill="#77300f"/>
<rect x="131.22" y="124.10" width="8.21" height="8.65" fill="#ca8f4a"/>
<rect x="131.22" y="132.75" width="8.21" height="8.00" fill="#c67c3d"/>
<rect x="131.22" y="123.80" width="8.21" height="0.9" fill="#dfac74"/>
<rect x="139.43" y="124.10" width="7.90" height="8.65" fill="#6e7c48"/>
<rect x="139.43" y="132.75" width="7.90" height="8.00" fill="#77300f"/>
<rect x="147.33" y="124.10" width="8.21" height="8.65" fill="#ca8f4a"/>
<rect x="147.33" y="132.75" width="8.21" height="8.00" fill="#c67c3d"/>
<rect x="147.33" y="123.80" width="8.21" height="0.9" fill="#dfac74"/>
<rect x="155.54" y="124.10" width="7.90" height="8.65" fill="#6e7c48"/>
<rect x="155.54" y="132.75" width="7.90" height="8.00" fill="#77300f"/>
<rect x="163.44" y="124.10" width="8.21" height="8.65" fill="#ca8f4a"/>
<rect x="163.44" y="132.75" width="8.21" height="8.00" fill="#c67c3d"/>
<rect x="163.44" y="123.80" width="8.21" height="0.9" fill="#dfac74"/>
<rect x="171.65" y="124.10" width="7.90" height="8.65" fill="#6e7c48"/>
<rect x="171.65" y="132.75" width="7.90" height="8.00" fill="#77300f"/>
<rect x="179.55" y="124.10" width="8.21" height="8.65" fill="#ca8f4a"/>
<rect x="179.55" y="132.75" width="8.21" height="8.00" fill="#c67c3d"/>
<rect x="179.55" y="123.80" width="8.21" height="0.9" fill="#dfac74"/>
<rect x="187.76" y="124.10" width="7.90" height="8.65" fill="#6e7c48"/>
<rect x="187.76" y="132.75" width="7.90" height="8.00" fill="#77300f"/>
<rect x="195.66" y="124.10" width="8.21" height="8.65" fill="#ca8f4a"/>
<rect x="195.66" y="132.75" width="8.21" height="8.00" fill="#c67c3d"/>
<rect x="195.66" y="123.80" width="8.21" height="0.9" fill="#dfac74"/>
<rect x="203.87" y="124.10" width="7.90" height="8.65" fill="#6e7c48"/>
<rect x="203.87" y="132.75" width="7.90" height="8.00" fill="#77300f"/>
<rect x="211.77" y="124.10" width="8.21" height="8.65" fill="#ca8f4a"/>
<rect x="211.77" y="132.75" width="8.21" height="8.00" fill="#c67c3d"/>
<rect x="211.77" y="123.80" width="8.21" height="0.9" fill="#dfac74"/>
<rect x="219.98" y="124.10" width="7.90" height="8.65" fill="#6e7c48"/>
<rect x="219.98" y="132.75" width="7.90" height="8.00" fill="#77300f"/>
<rect x="227.88" y="124.10" width="8.21" height="8.65" fill="#ca8f4a"/>
<rect x="227.88" y="132.75" width="8.21" height="8.00" fill="#c67c3d"/>
<rect x="227.88" y="123.80" width="8.21" height="0.9" fill="#dfac74"/>
<rect x="236.09" y="124.10" width="7.90" height="8.65" fill="#6e7c48"/>
<rect x="236.09" y="132.75" width="7.90" height="8.00" fill="#77300f"/>
<rect x="243.99" y="124.10" width="8.21" height="8.65" fill="#ca8f4a"/>
<rect x="243.99" y="132.75" width="8.21" height="8.00" fill="#c67c3d"/>
<rect x="243.99" y="123.80" width="8.21" height="0.9" fill="#dfac74"/>
<rect x="252.20" y="124.10" width="7.90" height="8.65" fill="#6e7c48"/>
<rect x="252.20" y="132.75" width="7.90" height="8.00" fill="#77300f"/>
<rect x="260.10" y="124.10" width="8.21" height="8.65" fill="#ca8f4a"/>
<rect x="260.10" y="132.75" width="8.21" height="8.00" fill="#c67c3d"/>
<rect x="260.10" y="123.80" width="8.21" height="0.9" fill="#dfac74"/>
<rect x="268.31" y="124.10" width="7.90" height="8.65" fill="#6e7c48"/>
<rect x="268.31" y="132.75" width="7.90" height="8.00" fill="#77300f"/>
<rect x="276.21" y="124.10" width="8.21" height="8.65" fill="#ca8f4a"/>
<rect x="276.21" y="132.75" width="8.21" height="8.00" fill="#c67c3d"/>
<rect x="276.21" y="123.80" width="8.21" height="0.9" fill="#dfac74"/>
<rect x="284.42" y="124.10" width="7.90" height="8.65" fill="#6e7c48"/>
<rect x="284.42" y="132.75" width="7.90" height="8.00" fill="#77300f"/>
<rect x="292.32" y="124.10" width="8.21" height="8.65" fill="#ca8f4a"/>
<rect x="292.32" y="132.75" width="8.21" height="8.00" fill="#c67c3d"/>
<rect x="292.32" y="123.80" width="8.21" height="0.9" fill="#dfac74"/>
<rect x="74.99" y="140.75" width="7.90" height="8.65" fill="#6e7c48"/>
<rect x="74.99" y="149.40" width="7.90" height="8.00" fill="#77300f"/>
<rect x="82.89" y="140.75" width="8.21" height="8.65" fill="#ca8f4a"/>
<rect x="82.89" y="149.40" width="8.21" height="8.00" fill="#c67c3d"/>
<rect x="82.89" y="140.45" width="8.21" height="0.9" fill="#dfac74"/>
<rect x="91.10" y="140.75" width="7.90" height="8.65" fill="#6e7c48"/>
<rect x="91.10" y="149.40" width="7.90" height="8.00" fill="#77300f"/>
<rect x="99.00" y="140.75" width="8.21" height="8.65" fill="#ca8f4a"/>
<rect x="99.00" y="149.40" width="8.21" height="8.00" fill="#c67c3d"/>
<rect x="99.00" y="140.45" width="8.21" height="0.9" fill="#dfac74"/>
<rect x="107.21" y="140.75" width="7.90" height="8.65" fill="#6e7c48"/>
<rect x="107.21" y="149.40" width="7.90" height="8.00" fill="#77300f"/>
<rect x="115.11" y="140.75" width="8.21" height="8.65" fill="#ca8f4a"/>
<rect x="115.11" y="149.40" width="8.21" height="8.00" fill="#c67c3d"/>
<rect x="115.11" y="140.45" width="8.21" height="0.9" fill="#dfac74"/>
<rect x="123.32" y="140.75" width="7.90" height="8.65" fill="#6e7c48"/>
<rect x="123.32" y="149.40" width="7.90" height="8.00" fill="#77300f"/>
<rect x="131.22" y="140.75" width="8.21" height="8.65" fill="#ca8f4a"/>
<rect x="131.22" y="149.40" width="8.21" height="8.00" fill="#c67c3d"/>
<rect x="131.22" y="140.45" width="8.21" height="0.9" fill="#dfac74"/>
<rect x="139.43" y="140.75" width="7.90" height="8.65" fill="#6e7c48"/>
<rect x="139.43" y="149.40" width="7.90" height="8.00" fill="#77300f"/>
<rect x="147.33" y="140.75" width="8.21" height="8.65" fill="#ca8f4a"/>
<rect x="147.33" y="149.40" width="8.21" height="8.00" fill="#c67c3d"/>
<rect x="147.33" y="140.45" width="8.21" height="0.9" fill="#dfac74"/>
<rect x="155.54" y="140.75" width="7.90" height="8.65" fill="#6e7c48"/>
<rect x="155.54" y="149.40" width="7.90" height="8.00" fill="#77300f"/>
<rect x="163.44" y="140.75" width="8.21" height="8.65" fill="#ca8f4a"/>
<rect x="163.44" y="149.40" width="8.21" height="8.00" fill="#c67c3d"/>
<rect x="163.44" y="140.45" width="8.21" height="0.9" fill="#dfac74"/>
<rect x="171.65" y="140.75" width="7.90" height="8.65" fill="#6e7c48"/>
<rect x="171.65" y="149.40" width="7.90" height="8.00" fill="#77300f"/>
<rect x="179.55" y="140.75" width="8.21" height="8.65" fill="#ca8f4a"/>
<rect x="179.55" y="149.40" width="8.21" height="8.00" fill="#c67c3d"/>
<rect x="179.55" y="140.45" width="8.21" height="0.9" fill="#dfac74"/>
<rect x="187.76" y="140.75" width="7.90" height="8.65" fill="#6e7c48"/>
<rect x="187.76" y="149.40" width="7.90" height="8.00" fill="#77300f"/>
<rect x="195.66" y="140.75" width="8.21" height="8.65" fill="#ca8f4a"/>
<rect x="195.66" y="149.40" width="8.21" height="8.00" fill="#c67c3d"/>
<rect x="195.66" y="140.45" width="8.21" height="0.9" fill="#dfac74"/>
<rect x="203.87" y="140.75" width="7.90" height="8.65" fill="#6e7c48"/>
<rect x="203.87" y="149.40" width="7.90" height="8.00" fill="#77300f"/>
<rect x="211.77" y="140.75" width="8.21" height="8.65" fill="#ca8f4a"/>
<rect x="211.77" y="149.40" width="8.21" height="8.00" fill="#c67c3d"/>
<rect x="211.77" y="140.45" width="8.21" height="0.9" fill="#dfac74"/>
<rect x="219.98" y="140.75" width="7.90" height="8.65" fill="#6e7c48"/>
<rect x="219.98" y="149.40" width="7.90" height="8.00" fill="#77300f"/>
<rect x="227.88" y="140.75" width="8.21" height="8.65" fill="#ca8f4a"/>
<rect x="227.88" y="149.40" width="8.21" height="8.00" fill="#c67c3d"/>
<rect x="227.88" y="140.45" width="8.21" height="0.9" fill="#dfac74"/>
<rect x="236.09" y="140.75" width="7.90" height="8.65" fill="#6e7c48"/>
<rect x="236.09" y="149.40" width="7.90" height="8.00" fill="#77300f"/>
<rect x="243.99" y="140.75" width="8.21" height="8.65" fill="#ca8f4a"/>
<rect x="243.99" y="149.40" width="8.21" height="8.00" fill="#c67c3d"/>
<rect x="243.99" y="140.45" width="8.21" height="0.9" fill="#dfac74"/>
<rect x="252.20" y="140.75" width="7.90" height="8.65" fill="#6e7c48"/>
<rect x="252.20" y="149.40" width="7.90" height="8.00" fill="#77300f"/>
<rect x="260.10" y="140.75" width="8.21" height="8.65" fill="#ca8f4a"/>
<rect x="260.10" y="149.40" width="8.21" height="8.00" fill="#c67c3d"/>
<rect x="260.10" y="140.45" width="8.21" height="0.9" fill="#dfac74"/>
<rect x="268.31" y="140.75" width="7.90" height="8.65" fill="#6e7c48"/>
<rect x="268.31" y="149.40" width="7.90" height="8.00" fill="#77300f"/>
<rect x="276.21" y="140.75" width="8.21" height="8.65" fill="#ca8f4a"/>
<rect x="276.21" y="149.40" width="8.21" height="8.00" fill="#c67c3d"/>
<rect x="276.21" y="140.45" width="8.21" height="0.9" fill="#dfac74"/>
<rect x="284.42" y="140.75" width="7.90" height="8.65" fill="#6e7c48"/>
<rect x="284.42" y="149.40" width="7.90" height="8.00" fill="#77300f"/>
<rect x="292.32" y="140.75" width="8.21" height="8.65" fill="#ca8f4a"/>
<rect x="292.32" y="149.40" width="8.21" height="8.00" fill="#c67c3d"/>
<rect x="292.32" y="140.45" width="8.21" height="0.9" fill="#dfac74"/>
<rect x="74.99" y="157.40" width="7.90" height="8.65" fill="#6e7c48"/>
<rect x="74.99" y="166.05" width="7.90" height="8.00" fill="#77300f"/>
<rect x="82.89" y="157.40" width="8.21" height="8.65" fill="#ca8f4a"/>
<rect x="82.89" y="166.05" width="8.21" height="8.00" fill="#c67c3d"/>
<rect x="82.89" y="157.10" width="8.21" height="0.9" fill="#dfac74"/>
<rect x="91.10" y="157.40" width="7.90" height="8.65" fill="#6e7c48"/>
<rect x="91.10" y="166.05" width="7.90" height="8.00" fill="#77300f"/>
<rect x="99.00" y="157.40" width="8.21" height="8.65" fill="#ca8f4a"/>
<rect x="99.00" y="166.05" width="8.21" height="8.00" fill="#c67c3d"/>
<rect x="99.00" y="157.10" width="8.21" height="0.9" fill="#dfac74"/>
<rect x="107.21" y="157.40" width="7.90" height="8.65" fill="#6e7c48"/>
<rect x="107.21" y="166.05" width="7.90" height="8.00" fill="#77300f"/>
<rect x="115.11" y="157.40" width="8.21" height="8.65" fill="#ca8f4a"/>
<rect x="115.11" y="166.05" width="8.21" height="8.00" fill="#c67c3d"/>
<rect x="115.11" y="157.10" width="8.21" height="0.9" fill="#dfac74"/>
<rect x="123.32" y="157.40" width="7.90" height="8.65" fill="#6e7c48"/>
<rect x="123.32" y="166.05" width="7.90" height="8.00" fill="#77300f"/>
<rect x="131.22" y="157.40" width="8.21" height="8.65" fill="#ca8f4a"/>
<rect x="131.22" y="166.05" width="8.21" height="8.00" fill="#c67c3d"/>
<rect x="131.22" y="157.10" width="8.21" height="0.9" fill="#dfac74"/>
<rect x="139.43" y="157.40" width="7.90" height="8.65" fill="#6e7c48"/>
<rect x="139.43" y="166.05" width="7.90" height="8.00" fill="#77300f"/>
<rect x="147.33" y="157.40" width="8.21" height="8.65" fill="#ca8f4a"/>
<rect x="147.33" y="166.05" width="8.21" height="8.00" fill="#c67c3d"/>
<rect x="147.33" y="157.10" width="8.21" height="0.9" fill="#dfac74"/>
<rect x="155.54" y="157.40" width="7.90" height="8.65" fill="#6e7c48"/>
<rect x="155.54" y="166.05" width="7.90" height="8.00" fill="#77300f"/>
<rect x="163.44" y="157.40" width="8.21" height="8.65" fill="#ca8f4a"/>
<rect x="163.44" y="166.05" width="8.21" height="8.00" fill="#c67c3d"/>
<rect x="163.44" y="157.10" width="8.21" height="0.9" fill="#dfac74"/>
<rect x="171.65" y="157.40" width="7.90" height="8.65" fill="#6e7c48"/>
<rect x="171.65" y="166.05" width="7.90" height="8.00" fill="#77300f"/>
<rect x="179.55" y="157.40" width="8.21" height="8.65" fill="#ca8f4a"/>
<rect x="179.55" y="166.05" width="8.21" height="8.00" fill="#c67c3d"/>
<rect x="179.55" y="157.10" width="8.21" height="0.9" fill="#dfac74"/>
<rect x="187.76" y="157.40" width="7.90" height="8.65" fill="#6e7c48"/>
<rect x="187.76" y="166.05" width="7.90" height="8.00" fill="#77300f"/>
<rect x="195.66" y="157.40" width="8.21" height="8.65" fill="#ca8f4a"/>
<rect x="195.66" y="166.05" width="8.21" height="8.00" fill="#c67c3d"/>
<rect x="195.66" y="157.10" width="8.21" height="0.9" fill="#dfac74"/>
<rect x="203.87" y="157.40" width="7.90" height="8.65" fill="#6e7c48"/>
<rect x="203.87" y="166.05" width="7.90" height="8.00" fill="#77300f"/>
<rect x="211.77" y="157.40" width="8.21" height="8.65" fill="#ca8f4a"/>
<rect x="211.77" y="166.05" width="8.21" height="8.00" fill="#c67c3d"/>
<rect x="211.77" y="157.10" width="8.21" height="0.9" fill="#dfac74"/>
<rect x="219.98" y="157.40" width="7.90" height="8.65" fill="#6e7c48"/>
<rect x="219.98" y="166.05" width="7.90" height="8.00" fill="#77300f"/>
<rect x="227.88" y="157.40" width="8.21" height="8.65" fill="#ca8f4a"/>
<rect x="227.88" y="166.05" width="8.21" height="8.00" fill="#c67c3d"/>
<rect x="227.88" y="157.10" width="8.21" height="0.9" fill="#dfac74"/>
<rect x="236.09" y="157.40" width="7.90" height="8.65" fill="#6e7c48"/>
<rect x="236.09" y="166.05" width="7.90" height="8.00" fill="#77300f"/>
<rect x="243.99" y="157.40" width="8.21" height="8.65" fill="#ca8f4a"/>
<rect x="243.99" y="166.05" width="8.21" height="8.00" fill="#c67c3d"/>
<rect x="243.99" y="157.10" width="8.21" height="0.9" fill="#dfac74"/>
<rect x="252.20" y="157.40" width="7.90" height="8.65" fill="#6e7c48"/>
<rect x="252.20" y="166.05" width="7.90" height="8.00" fill="#77300f"/>
<rect x="260.10" y="157.40" width="8.21" height="8.65" fill="#ca8f4a"/>
<rect x="260.10" y="166.05" width="8.21" height="8.00" fill="#c67c3d"/>
<rect x="260.10" y="157.10" width="8.21" height="0.9" fill="#dfac74"/>
<rect x="268.31" y="157.40" width="7.90" height="8.65" fill="#6e7c48"/>
<rect x="268.31" y="166.05" width="7.90" height="8.00" fill="#77300f"/>
<rect x="276.21" y="157.40" width="8.21" height="8.65" fill="#ca8f4a"/>
<rect x="276.21" y="166.05" width="8.21" height="8.00" fill="#c67c3d"/>
<rect x="276.21" y="157.10" width="8.21" height="0.9" fill="#dfac74"/>
<rect x="284.42" y="157.40" width="7.90" height="8.65" fill="#6e7c48"/>
<rect x="284.42" y="166.05" width="7.90" height="8.00" fill="#77300f"/>
<rect x="292.32" y="157.40" width="8.21" height="8.65" fill="#ca8f4a"/>
<rect x="292.32" y="166.05" width="8.21" height="8.00" fill="#c67c3d"/>
<rect x="292.32" y="157.10" width="8.21" height="0.9" fill="#dfac74"/>
</g></g>
<text x="129.2" y="30.6" font-size="8.3" font-family="Liberation Sans, Arial, sans-serif" font-weight="bold" fill="#f4efe4" textLength="94" lengthAdjust="spacingAndGlyphs">column addressing (TE)</text>
<text transform="translate(89.3,127.2) rotate(-90)" x="0" y="0" font-size="7.6" font-family="Liberation Sans, Arial, sans-serif" font-weight="bold" fill="#f4efe4" textLength="81.6" lengthAdjust="spacingAndGlyphs">row addressing (BE)</text>
<text x="138.2" y="94.9" font-size="10.3" font-family="Liberation Sans, Arial, sans-serif" font-weight="bold" fill="#f4efe4" stroke="#f4efe4" stroke-width="0.35" textLength="19.2" lengthAdjust="spacingAndGlyphs">1µm</text>
<text x="157.8" y="91.3" font-size="6.2" font-family="Liberation Sans, Arial, sans-serif" font-weight="bold" fill="#f4efe4">2</text>
<line x1="161" y1="95.3" x2="176" y2="95.3" stroke="#f4efe4" stroke-width="1.2"/>
<path d="M174,93.3 L179.2,95.3 L174,97.3 Z" fill="#f4efe4"/>
<text x="123.8" y="106.7" font-size="10.6" font-family="Liberation Sans, Arial, sans-serif" font-weight="bold" fill="#f4efe4" stroke="#f4efe4" stroke-width="0.35" textLength="50.8" lengthAdjust="spacingAndGlyphs">active area</text>
<rect x="244" y="140.4" width="24.2" height="2.6" fill="#f8f6f0"/>
<text x="245.8" y="150.5" font-size="8.6" font-family="Liberation Sans, Arial, sans-serif" font-weight="bold" fill="#f4efe4" stroke="#f4efe4" stroke-width="0.35" textLength="19" lengthAdjust="spacingAndGlyphs">3µm</text>
<clipPath id="lc"><rect x="45.4" y="6.9" width="474.80000000000007" height="319.8"/></clipPath>
<g clip-path="url(#lc)">
<path d="M283.1,166.5h0M287.8,166.5h0M292.5,166.5h0M297.2,166.5h0M301.8,166.5h0M306.5,166.5h0M311.2,166.5h0M315.9,166.4h0M320.6,166.4h0M325.3,166.4h0M330.0,166.4h0M334.6,166.4h0M339.3,166.3h0M344.0,166.3h0M348.7,166.3h0M353.4,166.2h0M358.1,166.2h0M362.7,166.2h0M367.4,166.1h0M372.1,166.1h0M376.8,166.0h0M381.5,165.9h0M386.2,165.7h0M390.9,165.5h0M395.5,165.1h0M400.2,164.7h0M404.9,164.2h0M409.6,163.7h0M414.3,163.1h0M419.0,162.4h0M423.7,161.5h0M428.3,160.4h0M433.0,159.0h0M437.7,157.4h0M442.4,155.1h0M447.1,152.4h0M451.8,150.0h0M456.4,147.5h0M461.1,145.0h0M465.8,142.2h0M470.5,139.1h0M475.2,135.6h0M479.9,131.8h0M484.6,127.6h0M489.2,122.5h0M493.9,117.0h0M498.6,111.7h0M503.3,106.7h0M508.0,101.8h0M512.7,97.1h0M517.4,92.4h0M278.4,166.8h0M273.7,167.1h0M269.0,167.6h0M264.4,168.1h0M259.7,168.6h0M255.0,169.2h0M250.3,169.8h0M245.6,170.5h0M240.9,171.2h0M236.3,171.9h0M231.6,172.7h0M226.9,173.7h0M222.2,174.7h0M217.5,175.9h0M212.8,177.0h0M208.1,178.0h0M203.5,179.1h0M198.8,180.2h0M194.1,181.4h0M189.4,182.8h0M184.7,184.5h0M180.0,186.5h0M175.3,188.7h0M170.7,191.0h0M166.0,193.4h0M161.3,196.0h0M156.6,198.8h0M151.9,201.6h0M147.2,204.5h0M142.6,207.2h0M137.9,209.9h0M133.2,212.5h0M128.5,215.2h0M123.8,217.9h0M119.1,221.0h0M114.4,224.3h0M109.8,227.8h0M105.1,231.6h0M100.4,235.6h0M95.7,240.0h0M91.0,244.7h0M86.3,249.9h0M81.6,255.4h0M77.0,261.2h0M72.3,267.0h0M67.6,273.0h0M62.9,279.4h0M58.2,285.9h0M53.5,292.7h0M48.9,299.8h0M283.1,166.5h0M287.8,166.5h0M292.5,166.5h0M297.2,166.5h0M301.8,166.5h0M306.5,166.5h0M311.2,166.5h0M315.9,166.5h0M320.6,166.5h0M325.3,166.5h0M330.0,166.5h0M334.6,166.5h0M339.3,166.4h0M344.0,166.4h0M348.7,166.4h0M353.4,166.4h0M358.1,166.4h0M362.7,166.4h0M367.4,166.4h0M372.1,166.4h0M376.8,166.3h0M381.5,166.3h0M386.2,166.2h0M390.9,166.1h0M395.5,165.9h0M400.2,165.7h0M404.9,165.5h0M409.6,165.2h0M414.3,165.0h0M419.0,164.6h0M423.7,164.2h0M428.3,163.7h0M433.0,163.0h0M437.7,162.3h0M442.4,161.1h0M447.1,159.3h0M451.8,157.1h0M456.4,154.7h0M461.1,152.2h0M465.8,149.7h0M470.5,147.5h0M475.2,145.4h0M479.9,142.9h0M484.6,139.5h0M489.2,135.5h0M493.9,131.1h0M498.6,126.0h0M503.3,120.0h0M508.0,112.4h0M512.7,103.1h0M517.4,92.4h0M278.4,166.8h0M273.7,167.2h0M269.0,167.7h0M264.4,168.2h0M259.7,168.8h0M255.0,169.4h0M250.3,170.1h0M245.6,170.8h0M240.9,171.5h0M236.3,172.2h0M231.6,173.1h0M226.9,174.1h0M222.2,175.2h0M217.5,176.3h0M212.8,177.4h0M208.1,178.5h0M203.5,179.6h0M198.8,180.7h0M194.1,182.0h0M189.4,183.4h0M184.7,185.2h0M180.0,187.3h0M175.3,189.7h0M170.7,192.3h0M166.0,195.0h0M161.3,197.9h0M156.6,201.0h0M151.9,204.3h0M147.2,207.6h0M142.6,210.7h0M137.9,213.6h0M133.2,216.3h0M128.5,219.1h0M123.8,222.0h0M119.1,225.3h0M114.4,228.8h0M109.8,232.7h0M105.1,236.8h0M100.4,241.2h0M95.7,245.8h0M91.0,250.9h0M86.3,256.4h0M81.6,262.2h0M77.0,268.3h0M72.3,274.5h0M67.6,280.7h0M62.9,287.1h0M58.2,293.9h0M53.5,300.8h0M48.9,307.9h0" stroke="#000000" stroke-width="5.4" stroke-linecap="round" fill="none"/>
<path d="M283.1,166.5h0M287.8,166.5h0M292.5,166.5h0M297.2,166.5h0M301.8,166.5h0M306.5,166.5h0M311.2,166.4h0M315.9,166.4h0M320.6,166.4h0M325.3,166.4h0M330.0,166.3h0M334.6,166.3h0M339.3,166.2h0M344.0,166.1h0M348.7,165.9h0M353.4,165.7h0M358.1,165.5h0M362.7,165.2h0M367.4,164.9h0M372.1,164.5h0M376.8,163.9h0M381.5,163.4h0M386.2,162.7h0M390.9,162.0h0M395.5,161.2h0M400.2,160.1h0M404.9,158.8h0M409.6,157.4h0M414.3,156.0h0M419.0,154.5h0M423.7,152.9h0M428.3,151.3h0M433.0,149.5h0M437.7,147.7h0M442.4,145.8h0M447.1,143.7h0M451.8,141.1h0M456.4,138.2h0M461.1,135.1h0M465.8,131.7h0M470.5,127.7h0M475.2,123.3h0M479.9,118.6h0M484.6,113.5h0M489.2,108.2h0M493.9,103.8h0M498.6,99.7h0M503.3,95.4h0M508.0,90.7h0M512.7,85.9h0M517.4,81.0h0M278.4,166.5h0M273.7,166.7h0M269.0,166.9h0M264.4,167.2h0M259.7,167.6h0M255.0,168.0h0M250.3,168.4h0M245.6,168.9h0M240.9,169.4h0M236.3,169.9h0M231.6,170.6h0M226.9,171.4h0M222.2,172.3h0M217.5,173.3h0M212.8,174.3h0M208.1,175.4h0M203.5,176.6h0M198.8,177.8h0M194.1,179.1h0M189.4,180.5h0M184.7,182.0h0M180.0,183.5h0M175.3,185.2h0M170.7,186.9h0M166.0,188.7h0M161.3,190.7h0M156.6,192.8h0M151.9,194.9h0M147.2,197.2h0M142.6,199.5h0M137.9,202.4h0M133.2,205.5h0M128.5,208.6h0M123.8,211.9h0M119.1,215.5h0M114.4,219.3h0M109.8,223.4h0M105.1,227.9h0M100.4,232.7h0M95.7,238.0h0M91.0,243.7h0M86.3,250.1h0M81.6,256.9h0M77.0,264.0h0M72.3,271.3h0M67.6,277.8h0M62.9,284.5h0M58.2,291.7h0M53.5,299.1h0M48.9,306.8h0M283.1,166.5h0M287.8,166.5h0M292.5,166.5h0M297.2,166.5h0M301.8,166.5h0M306.5,166.5h0M311.2,166.4h0M315.9,166.4h0M320.6,166.4h0M325.3,166.3h0M330.0,166.3h0M334.6,166.3h0M339.3,166.2h0M344.0,166.2h0M348.7,166.1h0M353.4,166.1h0M358.1,166.0h0M362.7,166.0h0M367.4,165.9h0M372.1,165.8h0M376.8,165.6h0M381.5,165.5h0M386.2,165.3h0M390.9,165.0h0M395.5,164.7h0M400.2,164.0h0M404.9,163.2h0M409.6,162.2h0M414.3,161.1h0M419.0,159.9h0M423.7,158.4h0M428.3,156.8h0M433.0,155.0h0M437.7,153.2h0M442.4,151.3h0M447.1,149.3h0M451.8,147.1h0M456.4,144.7h0M461.1,142.3h0M465.8,139.6h0M470.5,136.4h0M475.2,132.8h0M479.9,128.6h0M484.6,123.8h0M489.2,118.6h0M493.9,112.9h0M498.6,107.0h0M503.3,100.9h0M508.0,94.5h0M512.7,87.9h0M517.4,81.0h0M278.4,166.9h0M273.7,167.3h0M269.0,167.8h0M264.4,168.4h0M259.7,169.0h0M255.0,169.7h0M250.3,170.4h0M245.6,171.2h0M240.9,171.9h0M236.3,172.7h0M231.6,173.6h0M226.9,174.7h0M222.2,175.8h0M217.5,176.9h0M212.8,178.1h0M208.1,179.2h0M203.5,180.3h0M198.8,181.4h0M194.1,182.7h0M189.4,184.2h0M184.7,186.2h0M180.0,188.6h0M175.3,191.3h0M170.7,194.3h0M166.0,197.4h0M161.3,200.7h0M156.6,204.4h0M151.9,208.3h0M147.2,212.2h0M142.6,215.8h0M137.9,218.9h0M133.2,221.8h0M128.5,224.6h0M123.8,227.6h0M119.1,231.0h0M114.4,234.7h0M109.8,238.8h0M105.1,243.2h0M100.4,247.8h0M95.7,252.7h0M91.0,257.9h0M86.3,263.5h0M81.6,269.4h0M77.0,275.6h0M72.3,282.1h0M67.6,288.3h0M62.9,294.8h0M58.2,301.5h0M53.5,308.4h0M48.9,315.5h0" stroke="#ff0000" stroke-width="5.4" stroke-linecap="round" fill="none"/>
<path d="M283.1,166.5h0M287.8,166.5h0M292.5,166.5h0M297.2,166.4h0M301.8,166.4h0M306.5,166.3h0M311.2,166.3h0M315.9,166.2h0M320.6,166.1h0M325.3,166.0h0M330.0,165.9h0M334.6,165.6h0M339.3,165.1h0M344.0,164.5h0M348.7,163.7h0M353.4,162.8h0M358.1,161.8h0M362.7,160.7h0M367.4,159.2h0M372.1,157.3h0M376.8,155.3h0M381.5,153.2h0M386.2,151.1h0M390.9,149.1h0M395.5,147.2h0M400.2,145.4h0M404.9,143.6h0M409.6,141.7h0M414.3,139.8h0M419.0,137.7h0M423.7,135.5h0M428.3,133.2h0M433.0,130.7h0M437.7,128.1h0M442.4,125.3h0M447.1,122.4h0M451.8,119.3h0M456.4,116.0h0M461.1,112.5h0M465.8,108.8h0M470.5,104.9h0M475.2,100.7h0M479.9,96.0h0M484.6,90.8h0M489.2,84.8h0M493.9,78.2h0M498.6,70.6h0M503.3,63.8h0M508.0,59.0h0M512.7,55.2h0M517.4,52.2h0M278.4,166.6h0M273.7,166.7h0M269.0,167.0h0M264.4,167.3h0M259.7,167.7h0M255.0,168.1h0M250.3,168.6h0M245.6,169.1h0M240.9,169.6h0M236.3,170.1h0M231.6,170.8h0M226.9,171.6h0M222.2,172.5h0M217.5,173.5h0M212.8,174.5h0M208.1,175.6h0M203.5,176.7h0M198.8,177.9h0M194.1,179.1h0M189.4,180.5h0M184.7,181.9h0M180.0,183.3h0M175.3,184.9h0M170.7,186.4h0M166.0,188.1h0M161.3,189.8h0M156.6,191.6h0M151.9,193.4h0M147.2,195.3h0M142.6,197.2h0M137.9,199.6h0M133.2,202.0h0M128.5,204.5h0M123.8,207.2h0M119.1,210.0h0M114.4,212.9h0M109.8,216.0h0M105.1,219.3h0M100.4,222.9h0M95.7,226.8h0M91.0,231.3h0M86.3,236.4h0M81.6,241.7h0M77.0,247.2h0M72.3,252.6h0M67.6,259.9h0M62.9,267.8h0M58.2,276.2h0M53.5,285.2h0M48.9,294.9h0M283.1,166.5h0M287.8,166.5h0M292.5,166.5h0M297.2,166.5h0M301.8,166.4h0M306.5,166.4h0M311.2,166.4h0M315.9,166.3h0M320.6,166.3h0M325.3,166.2h0M330.0,166.2h0M334.6,166.0h0M339.3,165.7h0M344.0,165.3h0M348.7,164.8h0M353.4,164.3h0M358.1,163.7h0M362.7,163.1h0M367.4,162.4h0M372.1,161.6h0M376.8,160.7h0M381.5,159.7h0M386.2,158.6h0M390.9,157.5h0M395.5,156.2h0M400.2,154.8h0M404.9,153.1h0M409.6,151.4h0M414.3,149.5h0M419.0,147.4h0M423.7,145.1h0M428.3,142.7h0M433.0,140.1h0M437.7,137.5h0M442.4,134.9h0M447.1,132.1h0M451.8,129.2h0M456.4,126.1h0M461.1,122.7h0M465.8,119.2h0M470.5,115.5h0M475.2,111.7h0M479.9,107.7h0M484.6,103.5h0M489.2,99.2h0M493.9,94.8h0M498.6,90.0h0M503.3,84.6h0M508.0,78.6h0M512.7,71.8h0M517.4,63.0h0M278.4,166.9h0M273.7,167.3h0M269.0,167.8h0M264.4,168.4h0M259.7,169.0h0M255.0,169.7h0M250.3,170.4h0M245.6,171.2h0M240.9,171.9h0M236.3,172.7h0M231.6,173.6h0M226.9,174.7h0M222.2,175.8h0M217.5,176.9h0M212.8,178.1h0M208.1,179.2h0M203.5,180.3h0M198.8,181.4h0M194.1,182.7h0M189.4,184.2h0M184.7,186.2h0M180.0,188.6h0M175.3,191.3h0M170.7,194.3h0M166.0,197.4h0M161.3,200.7h0M156.6,204.4h0M151.9,208.3h0M147.2,212.2h0M142.6,215.8h0M137.9,218.8h0M133.2,221.6h0M128.5,224.3h0M123.8,227.1h0M119.1,230.3h0M114.4,233.9h0M109.8,237.8h0M105.1,241.9h0M100.4,246.3h0M95.7,251.0h0M91.0,255.9h0M86.3,261.2h0M81.6,266.8h0M77.0,272.7h0M72.3,278.8h0M67.6,286.4h0M62.9,294.5h0M58.2,303.2h0M53.5,312.3h0M48.9,322.0h0" stroke="#00c800" stroke-width="5.4" stroke-linecap="round" fill="none"/>
<path d="M283.1,166.5h0M287.8,166.5h0M292.5,166.5h0M297.2,166.4h0M301.8,166.4h0M306.5,166.3h0M311.2,166.2h0M315.9,166.1h0M320.6,166.0h0M325.3,165.9h0M330.0,165.7h0M334.6,165.3h0M339.3,164.4h0M344.0,163.1h0M348.7,161.6h0M353.4,160.0h0M358.1,158.4h0M362.7,156.7h0M367.4,154.8h0M372.1,152.7h0M376.8,150.4h0M381.5,148.0h0M386.2,145.5h0M390.9,142.9h0M395.5,140.4h0M400.2,137.8h0M404.9,135.0h0M409.6,132.2h0M414.3,129.3h0M419.0,126.4h0M423.7,123.4h0M428.3,120.6h0M433.0,117.8h0M437.7,114.9h0M442.4,111.9h0M447.1,108.6h0M451.8,104.9h0M456.4,100.9h0M461.1,96.6h0M465.8,92.1h0M470.5,87.6h0M475.2,83.2h0M479.9,78.8h0M484.6,74.6h0M489.2,70.4h0M493.9,66.0h0M498.6,60.9h0M503.3,55.4h0M508.0,50.1h0M512.7,45.3h0M517.4,40.8h0M278.4,166.8h0M273.7,167.2h0M269.0,167.7h0M264.4,168.3h0M259.7,168.9h0M255.0,169.5h0M250.3,170.2h0M245.6,170.9h0M240.9,171.6h0M236.3,172.4h0M231.6,173.3h0M226.9,174.3h0M222.2,175.4h0M217.5,176.5h0M212.8,177.6h0M208.1,178.6h0M203.5,179.6h0M198.8,180.6h0M194.1,181.8h0M189.4,183.2h0M184.7,184.8h0M180.0,186.8h0M175.3,189.0h0M170.7,191.3h0M166.0,193.6h0M161.3,196.0h0M156.6,198.6h0M151.9,201.3h0M147.2,203.9h0M142.6,206.4h0M137.9,208.6h0M133.2,210.8h0M128.5,213.0h0M123.8,215.3h0M119.1,217.7h0M114.4,220.4h0M109.8,223.2h0M105.1,226.1h0M100.4,229.3h0M95.7,232.6h0M91.0,236.4h0M86.3,240.7h0M81.6,245.1h0M77.0,249.7h0M72.3,254.0h0M67.6,261.0h0M62.9,268.4h0M58.2,276.3h0M53.5,284.8h0M48.9,293.8h0M283.1,166.5h0M287.8,166.5h0M292.5,166.5h0M297.2,166.4h0M301.8,166.4h0M306.5,166.3h0M311.2,166.3h0M315.9,166.2h0M320.6,166.1h0M325.3,166.0h0M330.0,165.9h0M334.6,165.5h0M339.3,164.8h0M344.0,163.7h0M348.7,162.5h0M353.4,161.1h0M358.1,159.7h0M362.7,158.3h0M367.4,156.6h0M372.1,154.7h0M376.8,152.7h0M381.5,150.5h0M386.2,148.2h0M390.9,145.9h0M395.5,143.6h0M400.2,141.1h0M404.9,138.5h0M409.6,135.8h0M414.3,133.0h0M419.0,130.2h0M423.7,127.3h0M428.3,124.6h0M433.0,121.8h0M437.7,119.0h0M442.4,116.1h0M447.1,112.9h0M451.8,109.6h0M456.4,106.0h0M461.1,102.3h0M465.8,98.5h0M470.5,94.6h0M475.2,90.7h0M479.9,86.9h0M484.6,83.1h0M489.2,78.9h0M493.9,74.1h0M498.6,67.9h0M503.3,60.7h0M508.0,53.7h0M512.7,47.2h0M517.4,40.8h0M278.4,166.9h0M273.7,167.3h0M269.0,167.8h0M264.4,168.4h0M259.7,169.0h0M255.0,169.7h0M250.3,170.4h0M245.6,171.2h0M240.9,171.9h0M236.3,172.7h0M231.6,173.6h0M226.9,174.7h0M222.2,175.8h0M217.5,176.9h0M212.8,178.1h0M208.1,179.1h0M203.5,180.1h0M198.8,181.1h0M194.1,182.3h0M189.4,183.7h0M184.7,185.5h0M180.0,187.6h0M175.3,190.0h0M170.7,192.6h0M166.0,195.2h0M161.3,197.9h0M156.6,200.9h0M151.9,204.0h0M147.2,207.0h0M142.6,209.8h0M137.9,212.4h0M133.2,214.7h0M128.5,217.1h0M123.8,219.6h0M119.1,222.4h0M114.4,225.4h0M109.8,228.6h0M105.1,232.0h0M100.4,235.6h0M95.7,239.5h0M91.0,243.7h0M86.3,248.4h0M81.6,253.3h0M77.0,258.3h0M72.3,263.4h0M67.6,269.4h0M62.9,275.7h0M58.2,282.2h0M53.5,289.0h0M48.9,296.0h0" stroke="#0000ff" stroke-width="5.4" stroke-linecap="round" fill="none"/>
<path d="M283.1,166.5h0M287.8,166.5h0M292.5,166.3h0M297.2,166.1h0M301.8,165.8h0M306.5,165.5h0M311.2,165.0h0M315.9,164.6h0M320.6,164.1h0M325.3,163.5h0M330.0,162.9h0M334.6,162.1h0M339.3,160.9h0M344.0,159.4h0M348.7,157.7h0M353.4,155.8h0M358.1,153.9h0M362.7,151.9h0M367.4,149.4h0M372.1,146.7h0M376.8,143.8h0M381.5,141.0h0M386.2,138.3h0M390.9,136.0h0M395.5,134.1h0M400.2,132.3h0M404.9,130.2h0M409.6,127.5h0M414.3,124.4h0M419.0,121.0h0M423.7,117.6h0M428.3,114.3h0M433.0,110.8h0M437.7,107.3h0M442.4,103.7h0M447.1,100.1h0M451.8,96.3h0M456.4,92.1h0M461.1,87.4h0M465.8,82.3h0M470.5,76.7h0M475.2,71.1h0M479.9,65.4h0M484.6,59.9h0M489.2,54.7h0M493.9,49.9h0M498.6,45.4h0M503.3,40.6h0M508.0,35.4h0M512.7,30.1h0M517.4,24.5h0M278.4,166.6h0M273.7,166.8h0M269.0,167.0h0M264.4,167.3h0M259.7,167.7h0M255.0,168.1h0M250.3,168.6h0M245.6,169.1h0M240.9,169.7h0M236.3,170.2h0M231.6,170.9h0M226.9,171.7h0M222.2,172.6h0M217.5,173.6h0M212.8,174.7h0M208.1,175.7h0M203.5,176.8h0M198.8,178.0h0M194.1,179.3h0M189.4,180.7h0M184.7,182.1h0M180.0,183.6h0M175.3,185.2h0M170.7,186.9h0M166.0,188.7h0M161.3,190.5h0M156.6,192.5h0M151.9,194.5h0M147.2,196.5h0M142.6,198.6h0M137.9,200.8h0M133.2,202.9h0M128.5,205.2h0M123.8,207.5h0M119.1,210.0h0M114.4,212.6h0M109.8,215.4h0M105.1,218.3h0M100.4,221.4h0M95.7,224.8h0M91.0,228.7h0M86.3,233.1h0M81.6,237.9h0M77.0,242.6h0M72.3,247.1h0M67.6,251.4h0M62.9,255.6h0M58.2,259.8h0M53.5,263.8h0M48.9,267.8h0M283.1,166.5h0M287.8,166.5h0M292.5,166.4h0M297.2,166.2h0M301.8,166.0h0M306.5,165.7h0M311.2,165.4h0M315.9,165.0h0M320.6,164.6h0M325.3,164.2h0M330.0,163.7h0M334.6,163.0h0M339.3,162.0h0M344.0,160.6h0M348.7,159.1h0M353.4,157.5h0M358.1,155.7h0M362.7,153.9h0M367.4,151.8h0M372.1,149.5h0M376.8,146.9h0M381.5,144.3h0M386.2,141.7h0M390.9,139.1h0M395.5,136.6h0M400.2,134.1h0M404.9,131.6h0M409.6,129.1h0M414.3,126.4h0M419.0,123.7h0M423.7,120.8h0M428.3,117.6h0M433.0,114.3h0M437.7,110.9h0M442.4,107.7h0M447.1,104.6h0M451.8,101.3h0M456.4,97.6h0M461.1,93.3h0M465.8,88.6h0M470.5,83.5h0M475.2,78.1h0M479.9,72.6h0M484.6,67.1h0M489.2,61.6h0M493.9,56.2h0M498.6,50.8h0M503.3,45.2h0M508.0,39.0h0M512.7,32.1h0M517.4,24.5h0M278.4,166.6h0M273.7,166.8h0M269.0,167.1h0M264.4,167.5h0M259.7,167.9h0M255.0,168.4h0M250.3,168.9h0M245.6,169.4h0M240.9,170.0h0M236.3,170.6h0M231.6,171.3h0M226.9,172.1h0M222.2,173.1h0M217.5,174.2h0M212.8,175.2h0M208.1,176.2h0M203.5,177.4h0M198.8,178.5h0M194.1,179.8h0M189.4,181.1h0M184.7,182.6h0M180.0,184.2h0M175.3,186.0h0M170.7,187.8h0M166.0,189.7h0M161.3,191.7h0M156.6,193.8h0M151.9,195.9h0M147.2,198.1h0M142.6,200.3h0M137.9,202.5h0M133.2,204.7h0M128.5,207.0h0M123.8,209.3h0M119.1,211.8h0M114.4,214.4h0M109.8,217.2h0M105.1,220.1h0M100.4,223.2h0M95.7,226.7h0M91.0,230.6h0M86.3,235.0h0M81.6,239.7h0M77.0,244.4h0M72.3,248.9h0M67.6,253.6h0M62.9,258.2h0M58.2,262.9h0M53.5,267.5h0M48.9,272.2h0" stroke="#6b4507" stroke-width="5.4" stroke-linecap="round" fill="none"/>
<path d="M283.1,166.5h0M287.8,165.9h0M292.5,165.1h0M297.2,164.2h0M301.8,163.2h0M306.5,162.1h0M311.2,160.9h0M315.9,159.6h0M320.6,158.3h0M325.3,157.0h0M330.0,155.5h0M334.6,154.0h0M339.3,152.3h0M344.0,150.4h0M348.7,148.4h0M353.4,146.3h0M358.1,144.0h0M362.7,141.6h0M367.4,139.0h0M372.1,136.2h0M376.8,133.3h0M381.5,130.2h0M386.2,127.1h0M390.9,123.9h0M395.5,120.7h0M400.2,117.3h0M404.9,113.8h0M409.6,110.2h0M414.3,106.6h0M419.0,102.9h0M423.7,99.1h0M428.3,95.3h0M433.0,91.3h0M437.7,87.3h0M442.4,83.2h0M447.1,79.1h0M451.8,74.9h0M456.4,70.7h0M461.1,66.3h0M465.8,61.9h0M470.5,57.4h0M475.2,52.9h0M479.9,48.3h0M484.6,43.8h0M489.2,39.5h0M493.9,34.5h0M498.6,27.0h0M503.3,19.5h0M508.0,13.5h0M512.7,9.9h0M517.4,9.6h0M278.4,166.9h0M273.7,167.3h0M269.0,167.8h0M264.4,168.3h0M259.7,168.9h0M255.0,169.6h0M250.3,170.3h0M245.6,171.0h0M240.9,171.8h0M236.3,172.6h0M231.6,173.4h0M226.9,174.5h0M222.2,175.6h0M217.5,176.7h0M212.8,177.8h0M208.1,178.8h0M203.5,179.8h0M198.8,180.9h0M194.1,182.0h0M189.4,183.4h0M184.7,185.1h0M180.0,187.1h0M175.3,189.3h0M170.7,191.7h0M166.0,194.1h0M161.3,196.6h0M156.6,199.3h0M151.9,202.0h0M147.2,204.7h0M142.6,207.2h0M137.9,209.7h0M133.2,212.2h0M128.5,214.6h0M123.8,217.1h0M119.1,219.9h0M114.4,222.9h0M109.8,226.1h0M105.1,229.6h0M100.4,233.2h0M95.7,237.1h0M91.0,241.4h0M86.3,246.2h0M81.6,251.2h0M77.0,256.4h0M72.3,261.6h0M67.6,266.4h0M62.9,271.2h0M58.2,276.1h0M53.5,280.9h0M48.9,285.7h0M283.1,166.5h0M287.8,166.3h0M292.5,166.0h0M297.2,165.5h0M301.8,164.9h0M306.5,164.2h0M311.2,163.5h0M315.9,162.7h0M320.6,161.8h0M325.3,160.9h0M330.0,159.9h0M334.6,158.9h0M339.3,157.6h0M344.0,156.1h0M348.7,154.5h0M353.4,152.7h0M358.1,150.9h0M362.7,149.0h0M367.4,146.9h0M372.1,144.6h0M376.8,142.1h0M381.5,139.5h0M386.2,136.8h0M390.9,134.1h0M395.5,131.2h0M400.2,128.2h0M404.9,125.1h0M409.6,121.9h0M414.3,118.6h0M419.0,115.2h0M423.7,111.7h0M428.3,108.1h0M433.0,104.4h0M437.7,100.7h0M442.4,96.9h0M447.1,92.9h0M451.8,88.7h0M456.4,84.3h0M461.1,79.7h0M465.8,74.8h0M470.5,69.8h0M475.2,64.6h0M479.9,59.5h0M484.6,54.5h0M489.2,49.8h0M493.9,45.1h0M498.6,40.3h0M503.3,35.0h0M508.0,28.8h0M512.7,22.0h0M517.4,14.6h0M278.4,166.9h0M273.7,167.4h0M269.0,167.9h0M264.4,168.5h0M259.7,169.1h0M255.0,169.8h0M250.3,170.5h0M245.6,171.3h0M240.9,172.1h0M236.3,172.9h0M231.6,173.8h0M226.9,174.8h0M222.2,176.0h0M217.5,177.1h0M212.8,178.3h0M208.1,179.3h0M203.5,180.3h0M198.8,181.4h0M194.1,182.6h0M189.4,184.0h0M184.7,185.7h0M180.0,187.9h0M175.3,190.4h0M170.7,193.0h0M166.0,195.6h0M161.3,198.4h0M156.6,201.5h0M151.9,204.7h0M147.2,207.8h0M142.6,210.7h0M137.9,213.3h0M133.2,215.7h0M128.5,218.1h0M123.8,220.6h0M119.1,223.4h0M114.4,226.5h0M109.8,229.8h0M105.1,233.3h0M100.4,237.0h0M95.7,240.9h0M91.0,245.2h0M86.3,249.9h0M81.6,254.9h0M77.0,260.0h0M72.3,265.2h0M67.6,270.1h0M62.9,275.1h0M58.2,280.1h0M53.5,285.1h0M48.9,290.0h0" stroke="#ffff00" stroke-width="5.4" stroke-linecap="round" fill="none"/>
<path d="M283.1,166.5h0M287.8,166.3h0M292.5,165.8h0M297.2,165.3h0M301.8,164.7h0M306.5,163.7h0M311.2,162.5h0M315.9,161.2h0M320.6,159.6h0M325.3,158.1h0M330.0,156.5h0M334.6,154.9h0M339.3,153.2h0M344.0,151.4h0M348.7,149.5h0M353.4,147.5h0M358.1,145.4h0M362.7,143.1h0M367.4,140.6h0M372.1,137.9h0M376.8,135.0h0M381.5,132.0h0M386.2,129.0h0M390.9,125.9h0M395.5,122.8h0M400.2,119.5h0M404.9,115.9h0M409.6,112.1h0M414.3,108.3h0M419.0,104.8h0M423.7,101.1h0M428.3,97.5h0M433.0,93.9h0M437.7,90.1h0M442.4,86.0h0M447.1,81.6h0M451.8,77.1h0M456.4,72.7h0M461.1,68.2h0M465.8,63.4h0M470.5,58.7h0M475.2,54.1h0M479.9,49.8h0M484.6,45.9h0M489.2,42.8h0M493.9,39.7h0M498.6,35.4h0M503.3,30.9h0M508.0,26.7h0M512.7,22.6h0M517.4,18.7h0M278.4,166.8h0M273.7,167.2h0M269.0,167.7h0M264.4,168.3h0M259.7,168.9h0M255.0,169.5h0M250.3,170.2h0M245.6,170.9h0M240.9,171.6h0M236.3,172.4h0M231.6,173.3h0M226.9,174.3h0M222.2,175.4h0M217.5,176.5h0M212.8,177.6h0M208.1,178.6h0M203.5,179.5h0M198.8,180.6h0M194.1,181.7h0M189.4,183.0h0M184.7,184.7h0M180.0,186.6h0M175.3,188.6h0M170.7,190.8h0M166.0,193.0h0M161.3,195.2h0M156.6,197.6h0M151.9,200.1h0M147.2,202.4h0M142.6,204.6h0M137.9,206.8h0M133.2,208.8h0M128.5,210.9h0M123.8,213.0h0M119.1,215.3h0M114.4,217.8h0M109.8,220.4h0M105.1,223.1h0M100.4,225.9h0M95.7,229.0h0M91.0,232.6h0M86.3,236.5h0M81.6,240.8h0M77.0,245.0h0M72.3,248.9h0M67.6,253.6h0M62.9,258.3h0M58.2,263.0h0M53.5,267.7h0M48.9,272.4h0M283.1,166.5h0M287.8,166.1h0M292.5,165.7h0M297.2,165.0h0M301.8,164.3h0M306.5,163.5h0M311.2,162.6h0M315.9,161.6h0M320.6,160.6h0M325.3,159.5h0M330.0,158.4h0M334.6,157.1h0M339.3,155.7h0M344.0,154.0h0M348.7,152.2h0M353.4,150.3h0M358.1,148.3h0M362.7,146.2h0M367.4,143.9h0M372.1,141.4h0M376.8,138.7h0M381.5,135.9h0M386.2,133.1h0M390.9,130.2h0M395.5,127.1h0M400.2,123.8h0M404.9,120.4h0M409.6,117.1h0M414.3,114.1h0M419.0,111.5h0M423.7,109.0h0M428.3,106.2h0M433.0,102.6h0M437.7,98.7h0M442.4,94.9h0M447.1,91.0h0M451.8,87.1h0M456.4,83.0h0M461.1,78.9h0M465.8,74.6h0M470.5,70.3h0M475.2,65.9h0M479.9,61.4h0M484.6,56.9h0M489.2,52.4h0M493.9,48.0h0M498.6,43.3h0M503.3,38.1h0M508.0,32.2h0M512.7,25.7h0M517.4,18.7h0M278.4,166.9h0M273.7,167.4h0M269.0,168.0h0M264.4,168.6h0M259.7,169.3h0M255.0,170.0h0M250.3,170.8h0M245.6,171.6h0M240.9,172.4h0M236.3,173.2h0M231.6,174.2h0M226.9,175.2h0M222.2,176.4h0M217.5,177.6h0M212.8,178.7h0M208.1,179.8h0M203.5,180.8h0M198.8,181.9h0M194.1,183.1h0M189.4,184.6h0M184.7,186.5h0M180.0,188.9h0M175.3,191.7h0M170.7,194.6h0M166.0,197.6h0M161.3,200.9h0M156.6,204.5h0M151.9,208.2h0M147.2,211.9h0M142.6,215.3h0M137.9,217.6h0M133.2,219.6h0M128.5,221.5h0M123.8,223.6h0M119.1,225.8h0M114.4,228.3h0M109.8,231.0h0M105.1,233.8h0M100.4,236.7h0M95.7,239.7h0M91.0,243.0h0M86.3,246.6h0M81.6,250.5h0M77.0,254.3h0M72.3,258.0h0M67.6,262.5h0M62.9,266.9h0M58.2,271.4h0M53.5,275.7h0M48.9,280.0h0M278.4,166.9h0M273.7,167.3h0M269.0,167.9h0M264.4,168.4h0M259.7,169.1h0M255.0,169.8h0M250.3,170.5h0M245.6,171.2h0M240.9,172.0h0M236.3,172.8h0M231.6,173.7h0M226.9,174.7h0M222.2,175.9h0M217.5,177.0h0M212.8,178.2h0M208.1,179.2h0M203.5,180.2h0M198.8,181.2h0M194.1,182.4h0M189.4,183.8h0M184.7,185.6h0M180.0,187.7h0M175.3,190.2h0M170.7,192.7h0M166.0,195.3h0M161.3,198.0h0M156.6,201.0h0M151.9,204.1h0M147.2,207.2h0M142.6,210.0h0M137.9,212.2h0M133.2,214.2h0M128.5,216.2h0M123.8,218.3h0M119.1,220.6h0M114.4,223.1h0M109.8,225.7h0M105.1,228.4h0M100.4,231.3h0M95.7,234.4h0M91.0,237.8h0M86.3,241.6h0M81.6,245.6h0M77.0,249.7h0M72.3,253.5h0M67.6,258.0h0M62.9,262.6h0M58.2,267.2h0M53.5,271.7h0M48.9,276.2h0" stroke="#686868" stroke-width="5.4" stroke-linecap="round" fill="none"/>
</g>
<line x1="506" y1="150.5" x2="431.9" y2="76.1" stroke="#1a1a1a" stroke-width="2.4"/>
<path d="M423.4,67.6 L438.5,72.4 L431.2,75.4 L428.1,82.7 Z" fill="#1a1a1a"/>
<line x1="137" y1="251.3" x2="89.0" y2="203.9" stroke="#1a1a1a" stroke-width="2.4"/>
<path d="M80.5,195.5 L95.6,200.1 L88.3,203.2 L85.3,210.5 Z" fill="#1a1a1a"/>
<text x="394" y="62.5" font-size="16.5" font-family="Liberation Sans, Arial, sans-serif" font-weight="bold" fill="#000" stroke="#000" stroke-width="0.45" textLength="29.6" lengthAdjust="spacingAndGlyphs">LRS</text>
<text x="480.9" y="164.9" font-size="17.4" font-family="Liberation Sans, Arial, sans-serif" font-weight="bold" fill="#000" stroke="#000" stroke-width="0.45" textLength="32.7" lengthAdjust="spacingAndGlyphs">HRS</text>
<text x="54.6" y="191.4" font-size="17.2" font-family="Liberation Sans, Arial, sans-serif" font-weight="bold" fill="#000" stroke="#000" stroke-width="0.45" textLength="33.2" lengthAdjust="spacingAndGlyphs">HRS</text>
<text x="126.1" y="268.7" font-size="17.4" font-family="Liberation Sans, Arial, sans-serif" font-weight="bold" fill="#000" stroke="#000" stroke-width="0.45" textLength="29.7" lengthAdjust="spacingAndGlyphs">LRS</text>
<rect x="461.5" y="219.8" width="49.8" height="95" fill="#fff" stroke="#3a3a3a" stroke-width="1"/>
<line x1="464.7" y1="227.7" x2="486.6" y2="227.7" stroke="#bbbbbb" stroke-opacity="0.45" stroke-width="0.8"/>
<circle cx="475.8" cy="227.7" r="3.7" fill="#000000"/>
<text x="489.3" y="231.3" font-size="10.5" font-family="Liberation Sans, Arial, sans-serif" fill="#000">1st</text>
<line x1="464.7" y1="240.9" x2="486.6" y2="240.9" stroke="#ff0000" stroke-opacity="0.45" stroke-width="0.8"/>
<circle cx="475.8" cy="240.9" r="3.7" fill="#ff0000"/>
<text x="489.3" y="244.5" font-size="10.5" font-family="Liberation Sans, Arial, sans-serif" fill="#000">2nd</text>
<line x1="464.7" y1="254.1" x2="486.6" y2="254.1" stroke="#00c800" stroke-opacity="0.45" stroke-width="0.8"/>
<circle cx="475.8" cy="254.1" r="3.7" fill="#00c800"/>
<text x="489.3" y="257.7" font-size="10.5" font-family="Liberation Sans, Arial, sans-serif" fill="#000">3rd</text>
<line x1="464.7" y1="267.3" x2="486.6" y2="267.3" stroke="#0000ff" stroke-opacity="0.45" stroke-width="0.8"/>
<circle cx="475.8" cy="267.3" r="3.7" fill="#0000ff"/>
<text x="489.3" y="270.9" font-size="10.5" font-family="Liberation Sans, Arial, sans-serif" fill="#000">4th</text>
<line x1="464.7" y1="280.5" x2="486.6" y2="280.5" stroke="#6b4507" stroke-opacity="0.45" stroke-width="0.8"/>
<circle cx="475.8" cy="280.5" r="3.7" fill="#6b4507"/>
<text x="489.3" y="284.1" font-size="10.5" font-family="Liberation Sans, Arial, sans-serif" fill="#000">5th</text>
<line x1="464.7" y1="293.7" x2="486.6" y2="293.7" stroke="#ffff00" stroke-opacity="0.45" stroke-width="0.8"/>
<circle cx="475.8" cy="293.7" r="3.7" fill="#ffff00"/>
<text x="489.3" y="297.3" font-size="10.5" font-family="Liberation Sans, Arial, sans-serif" fill="#000">6th</text>
<line x1="464.7" y1="306.9" x2="486.6" y2="306.9" stroke="#bbbbbb" stroke-opacity="0.45" stroke-width="0.8"/>
<circle cx="475.8" cy="306.9" r="3.7" fill="#686868"/>
<text x="489.3" y="310.5" font-size="10.5" font-family="Liberation Sans, Arial, sans-serif" fill="#000">7th</text>
<rect x="45.4" y="6.9" width="474.80000000000007" height="319.8" fill="none" stroke="#000" stroke-width="2.4"/>
<path d="M48.9,326.7v-6.5M48.9,6.9v6.5M95.7,326.7v-6.5M95.7,6.9v6.5M142.6,326.7v-6.5M142.6,6.9v6.5M189.4,326.7v-6.5M189.4,6.9v6.5M236.3,326.7v-6.5M236.3,6.9v6.5M283.1,326.7v-6.5M283.1,6.9v6.5M330.0,326.7v-6.5M330.0,6.9v6.5M376.8,326.7v-6.5M376.8,6.9v6.5M423.7,326.7v-6.5M423.7,6.9v6.5M470.5,326.7v-6.5M470.5,6.9v6.5M517.4,326.7v-6.5M517.4,6.9v6.5" stroke="#111" stroke-width="1.3" fill="none"/>
<path d="M45.4,323.1h6.5M520.2,323.1h-6.5M45.4,244.8h6.5M520.2,244.8h-6.5M45.4,166.5h6.5M520.2,166.5h-6.5M45.4,88.2h6.5M520.2,88.2h-6.5M45.4,9.9h6.5M520.2,9.9h-6.5" stroke="#555" stroke-width="1" fill="none"/>
<text x="48.3" y="341.7" font-size="15.6" font-family="Liberation Sans, Arial, sans-serif" text-anchor="middle" fill="#000">-5</text>
<text x="95.7" y="341.7" font-size="15.6" font-family="Liberation Sans, Arial, sans-serif" text-anchor="middle" fill="#000">-4</text>
<text x="142.6" y="341.7" font-size="15.6" font-family="Liberation Sans, Arial, sans-serif" text-anchor="middle" fill="#000">-3</text>
<text x="189.4" y="341.7" font-size="15.6" font-family="Liberation Sans, Arial, sans-serif" text-anchor="middle" fill="#000">-2</text>
<text x="236.3" y="341.7" font-size="15.6" font-family="Liberation Sans, Arial, sans-serif" text-anchor="middle" fill="#000">-1</text>
<text x="283.1" y="341.7" font-size="15.6" font-family="Liberation Sans, Arial, sans-serif" text-anchor="middle" fill="#000">0</text>
<text x="330.0" y="341.7" font-size="15.6" font-family="Liberation Sans, Arial, sans-serif" text-anchor="middle" fill="#000">1</text>
<text x="376.8" y="341.7" font-size="15.6" font-family="Liberation Sans, Arial, sans-serif" text-anchor="middle" fill="#000">2</text>
<text x="423.7" y="341.7" font-size="15.6" font-family="Liberation Sans, Arial, sans-serif" text-anchor="middle" fill="#000">3</text>
<text x="470.5" y="341.7" font-size="15.6" font-family="Liberation Sans, Arial, sans-serif" text-anchor="middle" fill="#000">4</text>
<text x="515.9" y="341.7" font-size="15.6" font-family="Liberation Sans, Arial, sans-serif" text-anchor="middle" fill="#000">5</text>
<text x="42" y="330.5" font-size="15.1" font-family="Liberation Sans, Arial, sans-serif" text-anchor="end" fill="#000">-100</text>
<text x="42" y="249.8" font-size="15.1" font-family="Liberation Sans, Arial, sans-serif" text-anchor="end" fill="#000">-50</text>
<text x="42" y="171.5" font-size="15.1" font-family="Liberation Sans, Arial, sans-serif" text-anchor="end" fill="#000">0</text>
<text x="42" y="93.2" font-size="15.1" font-family="Liberation Sans, Arial, sans-serif" text-anchor="end" fill="#000">50</text>
<text x="42" y="14.4" font-size="15.1" font-family="Liberation Sans, Arial, sans-serif" text-anchor="end" fill="#000">100</text>
<text transform="translate(14.3,166.6) rotate(-90)" x="0" y="0" font-size="17.3" font-family="Liberation Sans, Arial, sans-serif" text-anchor="middle" fill="#000" textLength="101.6" lengthAdjust="spacingAndGlyphs">Current (mA)</text>
<text x="281.5" y="361" font-size="16.5" font-family="Liberation Sans, Arial, sans-serif" text-anchor="middle" fill="#000" textLength="86" lengthAdjust="spacingAndGlyphs">Voltage (V)</text>
<text x="55.6" y="29.8" font-size="16" font-family="Liberation Sans, Arial, sans-serif" fill="#000" textLength="18.8" lengthAdjust="spacingAndGlyphs">(a)</text>
<rect x="629.5" y="7.0" width="92.8" height="143.0" fill="#f8f7f6"/>
<rect x="722.3" y="7.0" width="94.6" height="143.0" fill="#e8e7ef"/>
<rect x="816.9" y="7.0" width="94.1" height="143.0" fill="#e6eee5"/>
<rect x="911.0" y="7.0" width="96.2" height="143.0" fill="#f7e7e5"/>
<rect x="1007.2" y="7.0" width="95.8" height="143.0" fill="#e4e4e4"/>
<rect x="1103.0" y="7.0" width="83.7" height="143.0" fill="#faf7fc"/>
<text x="655.2" y="23.6" font-size="14.6" font-family="Liberation Sans, Arial, sans-serif" fill="#111" textLength="40.7" lengthAdjust="spacingAndGlyphs">State 1</text>
<text x="748.3" y="23.6" font-size="14.6" font-family="Liberation Sans, Arial, sans-serif" fill="#111" textLength="43.4" lengthAdjust="spacingAndGlyphs">State 2</text>
<text x="846.1" y="23.6" font-size="14.6" font-family="Liberation Sans, Arial, sans-serif" fill="#111" textLength="43.4" lengthAdjust="spacingAndGlyphs">State 3</text>
<text x="941.8" y="23.6" font-size="14.6" font-family="Liberation Sans, Arial, sans-serif" fill="#111" textLength="43.3" lengthAdjust="spacingAndGlyphs">State 4</text>
<text x="1038.1" y="23.6" font-size="14.6" font-family="Liberation Sans, Arial, sans-serif" fill="#111" textLength="43.4" lengthAdjust="spacingAndGlyphs">State 5</text>
<text x="1127.8" y="23.6" font-size="14.6" font-family="Liberation Sans, Arial, sans-serif" fill="#111" textLength="43.6" lengthAdjust="spacingAndGlyphs">State 6</text>
<path d="M629.80,134.60h3.4v3.4h-3.4zM631.65,134.60h3.4v3.4h-3.4zM633.51,134.60h3.4v3.4h-3.4zM635.37,134.60h3.4v3.4h-3.4zM637.22,134.60h3.4v3.4h-3.4zM639.07,134.60h3.4v3.4h-3.4zM640.93,134.60h3.4v3.4h-3.4zM642.78,134.60h3.4v3.4h-3.4zM644.64,134.60h3.4v3.4h-3.4zM646.50,134.60h3.4v3.4h-3.4zM648.35,134.60h3.4v3.4h-3.4zM650.20,134.60h3.4v3.4h-3.4zM652.06,134.60h3.4v3.4h-3.4zM653.91,134.60h3.4v3.4h-3.4zM655.77,134.60h3.4v3.4h-3.4zM657.62,134.60h3.4v3.4h-3.4zM659.48,134.60h3.4v3.4h-3.4zM661.33,134.60h3.4v3.4h-3.4zM663.19,134.60h3.4v3.4h-3.4zM665.04,134.60h3.4v3.4h-3.4zM666.90,134.60h3.4v3.4h-3.4zM668.75,134.60h3.4v3.4h-3.4zM670.61,134.60h3.4v3.4h-3.4zM672.46,134.60h3.4v3.4h-3.4zM674.32,134.60h3.4v3.4h-3.4zM676.17,134.60h3.4v3.4h-3.4zM678.03,134.60h3.4v3.4h-3.4zM679.88,134.60h3.4v3.4h-3.4zM681.74,134.60h3.4v3.4h-3.4zM683.59,134.60h3.4v3.4h-3.4zM685.45,134.60h3.4v3.4h-3.4zM687.30,134.60h3.4v3.4h-3.4zM689.16,134.60h3.4v3.4h-3.4zM691.01,134.60h3.4v3.4h-3.4zM692.87,134.60h3.4v3.4h-3.4zM694.72,134.60h3.4v3.4h-3.4zM696.58,134.60h3.4v3.4h-3.4zM698.43,134.60h3.4v3.4h-3.4zM700.29,134.60h3.4v3.4h-3.4zM702.14,134.60h3.4v3.4h-3.4zM704.00,134.60h3.4v3.4h-3.4zM705.85,134.60h3.4v3.4h-3.4zM707.71,134.60h3.4v3.4h-3.4zM709.56,134.60h3.4v3.4h-3.4zM711.42,134.60h3.4v3.4h-3.4zM713.27,134.60h3.4v3.4h-3.4zM715.13,134.60h3.4v3.4h-3.4zM716.98,134.60h3.4v3.4h-3.4zM718.84,134.60h3.4v3.4h-3.4zM722.50,130.10h3.4v3.4h-3.4zM724.36,130.02h3.4v3.4h-3.4zM726.21,129.94h3.4v3.4h-3.4zM728.07,129.86h3.4v3.4h-3.4zM729.92,129.78h3.4v3.4h-3.4zM731.77,129.70h3.4v3.4h-3.4zM733.63,129.62h3.4v3.4h-3.4zM735.49,129.54h3.4v3.4h-3.4zM737.34,129.46h3.4v3.4h-3.4zM739.20,129.38h3.4v3.4h-3.4zM741.05,129.30h3.4v3.4h-3.4zM742.90,129.22h3.4v3.4h-3.4zM744.76,129.14h3.4v3.4h-3.4zM746.62,129.10h3.4v3.4h-3.4zM748.47,129.09h3.4v3.4h-3.4zM750.33,129.08h3.4v3.4h-3.4zM752.18,129.07h3.4v3.4h-3.4zM754.03,129.06h3.4v3.4h-3.4zM755.89,129.06h3.4v3.4h-3.4zM757.75,129.05h3.4v3.4h-3.4zM759.60,129.04h3.4v3.4h-3.4zM761.46,129.03h3.4v3.4h-3.4zM763.31,129.02h3.4v3.4h-3.4zM765.16,129.02h3.4v3.4h-3.4zM767.02,129.01h3.4v3.4h-3.4zM768.88,129.00h3.4v3.4h-3.4zM770.73,128.99h3.4v3.4h-3.4zM772.59,128.98h3.4v3.4h-3.4zM774.44,128.97h3.4v3.4h-3.4zM776.29,128.97h3.4v3.4h-3.4zM778.15,128.96h3.4v3.4h-3.4zM780.00,128.95h3.4v3.4h-3.4zM781.86,128.94h3.4v3.4h-3.4zM783.72,128.93h3.4v3.4h-3.4zM785.57,128.93h3.4v3.4h-3.4zM787.42,128.92h3.4v3.4h-3.4zM789.28,128.91h3.4v3.4h-3.4zM791.13,128.90h3.4v3.4h-3.4zM792.99,128.89h3.4v3.4h-3.4zM794.85,128.89h3.4v3.4h-3.4zM796.70,128.88h3.4v3.4h-3.4zM798.55,128.87h3.4v3.4h-3.4zM800.41,128.86h3.4v3.4h-3.4zM802.26,128.85h3.4v3.4h-3.4zM804.12,128.85h3.4v3.4h-3.4zM805.98,128.84h3.4v3.4h-3.4zM807.83,128.83h3.4v3.4h-3.4zM809.68,128.82h3.4v3.4h-3.4zM811.54,128.81h3.4v3.4h-3.4zM813.39,128.81h3.4v3.4h-3.4zM817.20,119.60h3.4v3.4h-3.4zM819.05,119.57h3.4v3.4h-3.4zM820.91,119.54h3.4v3.4h-3.4zM822.76,119.51h3.4v3.4h-3.4zM824.62,119.48h3.4v3.4h-3.4zM826.47,119.45h3.4v3.4h-3.4zM828.33,119.42h3.4v3.4h-3.4zM830.18,119.39h3.4v3.4h-3.4zM832.04,119.36h3.4v3.4h-3.4zM833.89,119.33h3.4v3.4h-3.4zM835.75,119.30h3.4v3.4h-3.4zM837.60,119.27h3.4v3.4h-3.4zM839.46,119.24h3.4v3.4h-3.4zM841.31,119.21h3.4v3.4h-3.4zM843.17,119.18h3.4v3.4h-3.4zM845.02,119.15h3.4v3.4h-3.4zM846.88,119.12h3.4v3.4h-3.4zM848.73,119.10h3.4v3.4h-3.4zM850.59,119.10h3.4v3.4h-3.4zM852.44,119.10h3.4v3.4h-3.4zM854.30,119.10h3.4v3.4h-3.4zM856.15,119.10h3.4v3.4h-3.4zM858.01,119.10h3.4v3.4h-3.4zM859.86,119.10h3.4v3.4h-3.4zM861.72,119.10h3.4v3.4h-3.4zM863.57,119.10h3.4v3.4h-3.4zM865.43,119.10h3.4v3.4h-3.4zM867.28,119.10h3.4v3.4h-3.4zM869.14,119.10h3.4v3.4h-3.4zM870.99,119.10h3.4v3.4h-3.4zM872.85,119.10h3.4v3.4h-3.4zM874.70,119.10h3.4v3.4h-3.4zM876.56,119.10h3.4v3.4h-3.4zM878.41,119.10h3.4v3.4h-3.4zM880.27,119.10h3.4v3.4h-3.4zM882.12,119.10h3.4v3.4h-3.4zM883.98,119.10h3.4v3.4h-3.4zM885.83,119.10h3.4v3.4h-3.4zM887.69,119.10h3.4v3.4h-3.4zM889.54,119.10h3.4v3.4h-3.4zM891.40,119.10h3.4v3.4h-3.4zM893.25,119.10h3.4v3.4h-3.4zM895.11,119.10h3.4v3.4h-3.4zM896.96,119.10h3.4v3.4h-3.4zM898.82,119.10h3.4v3.4h-3.4zM900.67,119.10h3.4v3.4h-3.4zM902.53,119.10h3.4v3.4h-3.4zM904.38,119.10h3.4v3.4h-3.4zM906.24,119.10h3.4v3.4h-3.4zM908.09,119.10h3.4v3.4h-3.4zM909.95,119.10h3.4v3.4h-3.4zM911.10,105.20h3.4v3.4h-3.4zM912.95,105.10h3.4v3.4h-3.4zM914.81,105.03h3.4v3.4h-3.4zM916.66,104.98h3.4v3.4h-3.4zM918.52,104.93h3.4v3.4h-3.4zM920.37,104.88h3.4v3.4h-3.4zM922.23,104.84h3.4v3.4h-3.4zM924.08,104.80h3.4v3.4h-3.4zM925.94,104.76h3.4v3.4h-3.4zM927.79,104.72h3.4v3.4h-3.4zM929.65,104.69h3.4v3.4h-3.4zM931.50,104.65h3.4v3.4h-3.4zM933.36,104.62h3.4v3.4h-3.4zM935.21,104.58h3.4v3.4h-3.4zM937.07,104.55h3.4v3.4h-3.4zM938.92,104.52h3.4v3.4h-3.4zM940.78,104.49h3.4v3.4h-3.4zM942.63,104.46h3.4v3.4h-3.4zM944.49,104.42h3.4v3.4h-3.4zM946.34,104.39h3.4v3.4h-3.4zM948.20,104.37h3.4v3.4h-3.4zM950.05,104.34h3.4v3.4h-3.4zM951.91,104.31h3.4v3.4h-3.4zM953.76,104.28h3.4v3.4h-3.4zM955.62,104.25h3.4v3.4h-3.4zM957.47,104.22h3.4v3.4h-3.4zM959.33,104.20h3.4v3.4h-3.4zM961.18,104.17h3.4v3.4h-3.4zM963.04,104.14h3.4v3.4h-3.4zM964.89,104.12h3.4v3.4h-3.4zM966.75,104.09h3.4v3.4h-3.4zM968.60,104.07h3.4v3.4h-3.4zM970.46,104.04h3.4v3.4h-3.4zM972.31,104.01h3.4v3.4h-3.4zM974.17,103.99h3.4v3.4h-3.4zM976.02,103.97h3.4v3.4h-3.4zM977.88,103.94h3.4v3.4h-3.4zM979.73,103.92h3.4v3.4h-3.4zM981.59,103.89h3.4v3.4h-3.4zM983.44,103.87h3.4v3.4h-3.4zM985.30,103.84h3.4v3.4h-3.4zM987.15,103.82h3.4v3.4h-3.4zM989.01,103.80h3.4v3.4h-3.4zM990.86,103.77h3.4v3.4h-3.4zM992.72,103.75h3.4v3.4h-3.4zM994.57,103.73h3.4v3.4h-3.4zM996.43,103.70h3.4v3.4h-3.4zM998.28,103.68h3.4v3.4h-3.4zM1000.14,103.66h3.4v3.4h-3.4zM1001.99,103.64h3.4v3.4h-3.4zM1003.85,103.61h3.4v3.4h-3.4zM1006.70,90.00h3.4v3.4h-3.4zM1008.55,89.12h3.4v3.4h-3.4zM1010.41,88.64h3.4v3.4h-3.4zM1012.26,88.24h3.4v3.4h-3.4zM1014.12,87.89h3.4v3.4h-3.4zM1015.97,87.56h3.4v3.4h-3.4zM1017.83,87.26h3.4v3.4h-3.4zM1019.68,86.97h3.4v3.4h-3.4zM1021.54,86.87h3.4v3.4h-3.4zM1023.39,86.82h3.4v3.4h-3.4zM1025.25,86.76h3.4v3.4h-3.4zM1027.11,86.71h3.4v3.4h-3.4zM1028.96,86.66h3.4v3.4h-3.4zM1030.81,86.60h3.4v3.4h-3.4zM1032.67,86.55h3.4v3.4h-3.4zM1034.52,86.50h3.4v3.4h-3.4zM1036.38,86.44h3.4v3.4h-3.4zM1038.23,86.39h3.4v3.4h-3.4zM1040.09,86.33h3.4v3.4h-3.4zM1041.94,86.28h3.4v3.4h-3.4zM1043.80,86.23h3.4v3.4h-3.4zM1045.65,86.17h3.4v3.4h-3.4zM1047.51,86.12h3.4v3.4h-3.4zM1049.37,86.07h3.4v3.4h-3.4zM1051.22,86.01h3.4v3.4h-3.4zM1053.08,85.96h3.4v3.4h-3.4zM1054.93,85.91h3.4v3.4h-3.4zM1056.78,85.85h3.4v3.4h-3.4zM1058.64,85.80h3.4v3.4h-3.4zM1060.49,85.74h3.4v3.4h-3.4zM1062.35,85.69h3.4v3.4h-3.4zM1064.20,85.64h3.4v3.4h-3.4zM1066.06,85.58h3.4v3.4h-3.4zM1067.91,85.53h3.4v3.4h-3.4zM1069.77,85.48h3.4v3.4h-3.4zM1071.62,85.42h3.4v3.4h-3.4zM1073.48,85.37h3.4v3.4h-3.4zM1075.34,85.32h3.4v3.4h-3.4zM1077.19,85.26h3.4v3.4h-3.4zM1079.04,85.21h3.4v3.4h-3.4zM1080.90,85.16h3.4v3.4h-3.4zM1082.75,85.10h3.4v3.4h-3.4zM1084.61,85.05h3.4v3.4h-3.4zM1086.46,84.99h3.4v3.4h-3.4zM1088.32,84.94h3.4v3.4h-3.4zM1090.17,84.89h3.4v3.4h-3.4zM1092.03,84.83h3.4v3.4h-3.4zM1093.88,84.78h3.4v3.4h-3.4zM1095.74,84.73h3.4v3.4h-3.4zM1097.60,84.67h3.4v3.4h-3.4zM1099.45,84.62h3.4v3.4h-3.4zM1101.90,75.10h3.4v3.4h-3.4zM1103.75,73.47h3.4v3.4h-3.4zM1105.61,72.60h3.4v3.4h-3.4zM1107.46,71.88h3.4v3.4h-3.4zM1109.32,71.26h3.4v3.4h-3.4zM1111.17,70.68h3.4v3.4h-3.4zM1113.03,70.15h3.4v3.4h-3.4zM1114.88,69.65h3.4v3.4h-3.4zM1116.74,69.48h3.4v3.4h-3.4zM1118.59,69.43h3.4v3.4h-3.4zM1120.45,69.37h3.4v3.4h-3.4zM1122.30,69.32h3.4v3.4h-3.4zM1124.16,69.27h3.4v3.4h-3.4zM1126.01,69.21h3.4v3.4h-3.4zM1127.87,69.16h3.4v3.4h-3.4zM1129.72,69.11h3.4v3.4h-3.4zM1131.58,69.06h3.4v3.4h-3.4zM1133.43,69.00h3.4v3.4h-3.4zM1135.29,68.95h3.4v3.4h-3.4zM1137.14,68.90h3.4v3.4h-3.4zM1139.00,68.85h3.4v3.4h-3.4zM1140.85,68.79h3.4v3.4h-3.4zM1142.71,68.74h3.4v3.4h-3.4zM1144.56,68.69h3.4v3.4h-3.4zM1146.42,68.63h3.4v3.4h-3.4zM1148.27,68.58h3.4v3.4h-3.4zM1150.13,68.53h3.4v3.4h-3.4zM1151.98,68.48h3.4v3.4h-3.4zM1153.84,68.42h3.4v3.4h-3.4zM1155.69,68.37h3.4v3.4h-3.4zM1157.55,68.32h3.4v3.4h-3.4zM1159.40,68.27h3.4v3.4h-3.4zM1161.26,68.21h3.4v3.4h-3.4zM1163.11,68.16h3.4v3.4h-3.4zM1164.97,68.11h3.4v3.4h-3.4zM1166.82,68.05h3.4v3.4h-3.4zM1168.68,68.00h3.4v3.4h-3.4zM1170.53,67.95h3.4v3.4h-3.4zM1172.39,67.90h3.4v3.4h-3.4zM1174.24,67.84h3.4v3.4h-3.4zM1176.10,67.79h3.4v3.4h-3.4zM1177.95,67.74h3.4v3.4h-3.4zM1179.81,67.69h3.4v3.4h-3.4zM1181.66,67.63h3.4v3.4h-3.4z" stroke="#f01010" stroke-width="0.9" fill="none"/>
<rect x="629.5" y="7.0" width="557.2" height="143.0" fill="none" stroke="#000" stroke-width="1.9"/>
<path d="M722.4,150.0v-5M722.4,7.0v5M814.7,150.0v-5M814.7,7.0v5M908.0,150.0v-5M908.0,7.0v5M1000.6,150.0v-5M1000.6,7.0v5M1093.2,150.0v-5M1093.2,7.0v5M629.5,78.5h5M1186.7,78.5h-5" stroke="#777" stroke-width="1" fill="none"/>
<text transform="translate(623.8,12.9) scale(1.17,1)" font-size="15.5" font-family="Liberation Sans, Arial, sans-serif" text-anchor="end" fill="#000">10</text>
<text transform="translate(624.2,84.6) scale(1.17,1)" font-size="15.5" font-family="Liberation Sans, Arial, sans-serif" text-anchor="end" fill="#000">5</text>
<text transform="translate(626.9,156.7) scale(1.17,1)" font-size="15.5" font-family="Liberation Sans, Arial, sans-serif" text-anchor="end" fill="#000">0</text>
<text transform="translate(600.2,74.05) rotate(-90) scale(1,1.17)" x="0" y="0" font-size="14.2" font-family="Liberation Sans, Arial, sans-serif" text-anchor="middle" fill="#000" textLength="132.6" lengthAdjust="spacingAndGlyphs">Memristance (kΩ)</text>
<rect x="627.96" y="203.34" width="93.66" height="22.86" fill="#fcfcff"/>
<rect x="723.05" y="203.34" width="93.66" height="22.86" fill="#fcfcff"/>
<rect x="818.14" y="203.34" width="93.66" height="22.86" fill="#fcfcff"/>
<rect x="913.23" y="203.34" width="93.66" height="22.86" fill="#fcfcff"/>
<rect x="1008.32" y="203.34" width="93.66" height="22.86" fill="#fcfcff"/>
<rect x="1103.41" y="203.34" width="84.34" height="22.86" fill="#fcfcff"/>
<path d="M628.96,226.2V203.34M630.83,226.2V203.34M632.69,226.2V203.34M634.56,226.2V203.34M636.42,226.2V203.34M638.29,226.2V203.34M640.15,226.2V203.34M642.02,226.2V203.34M643.88,226.2V203.34M645.75,226.2V203.34M647.61,226.2V203.34M649.47,226.2V203.34M651.34,226.2V203.34M653.20,226.2V203.34M655.07,226.2V203.34M656.93,226.2V203.34M658.80,226.2V203.34M660.66,226.2V203.34M662.53,226.2V203.34M664.39,226.2V203.34M666.25,226.2V203.34M668.12,226.2V203.34M669.98,226.2V203.34M671.85,226.2V203.34M673.71,226.2V203.34M675.58,226.2V203.34M677.44,226.2V203.34M679.31,226.2V203.34M681.17,226.2V203.34M683.04,226.2V203.34M684.90,226.2V203.34M686.76,226.2V203.34M688.63,226.2V203.34M690.49,226.2V203.34M692.36,226.2V203.34M694.22,226.2V203.34M696.09,226.2V203.34M697.95,226.2V203.34M699.82,226.2V203.34M701.68,226.2V203.34M703.54,226.2V203.34M705.41,226.2V203.34M707.27,226.2V203.34M709.14,226.2V203.34M711.00,226.2V203.34M712.87,226.2V203.34M714.73,226.2V203.34M716.60,226.2V203.34M718.46,226.2V203.34M720.33,226.2V203.34M724.05,226.2V203.34M725.92,226.2V203.34M727.78,226.2V203.34M729.65,226.2V203.34M731.51,226.2V203.34M733.38,226.2V203.34M735.24,226.2V203.34M737.11,226.2V203.34M738.97,226.2V203.34M740.83,226.2V203.34M742.70,226.2V203.34M744.56,226.2V203.34M746.43,226.2V203.34M748.29,226.2V203.34M750.16,226.2V203.34M752.02,226.2V203.34M753.89,226.2V203.34M755.75,226.2V203.34M757.62,226.2V203.34M759.48,226.2V203.34M761.34,226.2V203.34M763.21,226.2V203.34M765.07,226.2V203.34M766.94,226.2V203.34M768.80,226.2V203.34M770.67,226.2V203.34M772.53,226.2V203.34M774.40,226.2V203.34M776.26,226.2V203.34M778.12,226.2V203.34M779.99,226.2V203.34M781.85,226.2V203.34M783.72,226.2V203.34M785.58,226.2V203.34M787.45,226.2V203.34M789.31,226.2V203.34M791.18,226.2V203.34M793.04,226.2V203.34M794.90,226.2V203.34M796.77,226.2V203.34M798.63,226.2V203.34M800.50,226.2V203.34M802.36,226.2V203.34M804.23,226.2V203.34M806.09,226.2V203.34M807.96,226.2V203.34M809.82,226.2V203.34M811.69,226.2V203.34M813.55,226.2V203.34M815.41,226.2V203.34M819.14,226.2V203.34M821.01,226.2V203.34M822.87,226.2V203.34M824.74,226.2V203.34M826.60,226.2V203.34M828.47,226.2V203.34M830.33,226.2V203.34M832.20,226.2V203.34M834.06,226.2V203.34M835.92,226.2V203.34M837.79,226.2V203.34M839.65,226.2V203.34M841.52,226.2V203.34M843.38,226.2V203.34M845.25,226.2V203.34M847.11,226.2V203.34M848.98,226.2V203.34M850.84,226.2V203.34M852.70,226.2V203.34M854.57,226.2V203.34M856.43,226.2V203.34M858.30,226.2V203.34M860.16,226.2V203.34M862.03,226.2V203.34M863.89,226.2V203.34M865.76,226.2V203.34M867.62,226.2V203.34M869.49,226.2V203.34M871.35,226.2V203.34M873.21,226.2V203.34M875.08,226.2V203.34M876.94,226.2V203.34M878.81,226.2V203.34M880.67,226.2V203.34M882.54,226.2V203.34M884.40,226.2V203.34M886.27,226.2V203.34M888.13,226.2V203.34M889.99,226.2V203.34M891.86,226.2V203.34M893.72,226.2V203.34M895.59,226.2V203.34M897.45,226.2V203.34M899.32,226.2V203.34M901.18,226.2V203.34M903.05,226.2V203.34M904.91,226.2V203.34M906.78,226.2V203.34M908.64,226.2V203.34M910.50,226.2V203.34M914.23,226.2V203.34M916.10,226.2V203.34M917.96,226.2V203.34M919.83,226.2V203.34M921.69,226.2V203.34M923.56,226.2V203.34M925.42,226.2V203.34M927.28,226.2V203.34M929.15,226.2V203.34M931.01,226.2V203.34M932.88,226.2V203.34M934.74,226.2V203.34M936.61,226.2V203.34M938.47,226.2V203.34M940.34,226.2V203.34M942.20,226.2V203.34M944.07,226.2V203.34M945.93,226.2V203.34M947.79,226.2V203.34M949.66,226.2V203.34M951.52,226.2V203.34M953.39,226.2V203.34M955.25,226.2V203.34M957.12,226.2V203.34M958.98,226.2V203.34M960.85,226.2V203.34M962.71,226.2V203.34M964.57,226.2V203.34M966.44,226.2V203.34M968.30,226.2V203.34M970.17,226.2V203.34M972.03,226.2V203.34M973.90,226.2V203.34M975.76,226.2V203.34M977.63,226.2V203.34M979.49,226.2V203.34M981.36,226.2V203.34M983.22,226.2V203.34M985.08,226.2V203.34M986.95,226.2V203.34M988.81,226.2V203.34M990.68,226.2V203.34M992.54,226.2V203.34M994.41,226.2V203.34M996.27,226.2V203.34M998.14,226.2V203.34M1000.00,226.2V203.34M1001.86,226.2V203.34M1003.73,226.2V203.34M1005.59,226.2V203.34M1009.32,226.2V203.34M1011.19,226.2V203.34M1013.05,226.2V203.34M1014.92,226.2V203.34M1016.78,226.2V203.34M1018.64,226.2V203.34M1020.51,226.2V203.34M1022.37,226.2V203.34M1024.24,226.2V203.34M1026.10,226.2V203.34M1027.97,226.2V203.34M1029.83,226.2V203.34M1031.70,226.2V203.34M1033.56,226.2V203.34M1035.43,226.2V203.34M1037.29,226.2V203.34M1039.15,226.2V203.34M1041.02,226.2V203.34M1042.88,226.2V203.34M1044.75,226.2V203.34M1046.61,226.2V203.34M1048.48,226.2V203.34M1050.34,226.2V203.34M1052.21,226.2V203.34M1054.07,226.2V203.34M1055.93,226.2V203.34M1057.80,226.2V203.34M1059.66,226.2V203.34M1061.53,226.2V203.34M1063.39,226.2V203.34M1065.26,226.2V203.34M1067.12,226.2V203.34M1068.99,226.2V203.34M1070.85,226.2V203.34M1072.72,226.2V203.34M1074.58,226.2V203.34M1076.44,226.2V203.34M1078.31,226.2V203.34M1080.17,226.2V203.34M1082.04,226.2V203.34M1083.90,226.2V203.34M1085.77,226.2V203.34M1087.63,226.2V203.34M1089.50,226.2V203.34M1091.36,226.2V203.34M1093.22,226.2V203.34M1095.09,226.2V203.34M1096.95,226.2V203.34M1098.82,226.2V203.34M1100.68,226.2V203.34M1104.41,226.2V203.34M1106.28,226.2V203.34M1108.14,226.2V203.34M1110.01,226.2V203.34M1111.87,226.2V203.34M1113.73,226.2V203.34M1115.60,226.2V203.34M1117.46,226.2V203.34M1119.33,226.2V203.34M1121.19,226.2V203.34M1123.06,226.2V203.34M1124.92,226.2V203.34M1126.79,226.2V203.34M1128.65,226.2V203.34M1130.52,226.2V203.34M1132.38,226.2V203.34M1134.24,226.2V203.34M1136.11,226.2V203.34M1137.97,226.2V203.34M1139.84,226.2V203.34M1141.70,226.2V203.34M1143.57,226.2V203.34M1145.43,226.2V203.34M1147.30,226.2V203.34M1149.16,226.2V203.34M1151.02,226.2V203.34M1152.89,226.2V203.34M1154.75,226.2V203.34M1156.62,226.2V203.34M1158.48,226.2V203.34M1160.35,226.2V203.34M1162.21,226.2V203.34M1164.08,226.2V203.34M1165.94,226.2V203.34M1167.81,226.2V203.34M1169.67,226.2V203.34M1171.53,226.2V203.34M1173.40,226.2V203.34M1175.26,226.2V203.34M1177.13,226.2V203.34M1178.99,226.2V203.34M1180.86,226.2V203.34M1182.72,226.2V203.34M1184.59,226.2V203.34M1186.45,226.2V203.34" stroke="#5252ff" stroke-width="0.88" fill="none"/>
<line x1="627.96" y1="203.64" x2="721.62" y2="203.64" stroke="#8080ff" stroke-width="2.2"/>
<line x1="627.96" y1="204.24" x2="721.62" y2="204.24" stroke="#1818e0" stroke-width="1.3" stroke-dasharray="1.0 0.86"/>
<line x1="627.96" y1="225.70" x2="721.62" y2="225.70" stroke="#9090ff" stroke-width="0.8"/>
<line x1="723.05" y1="203.64" x2="816.71" y2="203.64" stroke="#8080ff" stroke-width="2.2"/>
<line x1="723.05" y1="204.24" x2="816.71" y2="204.24" stroke="#1818e0" stroke-width="1.3" stroke-dasharray="1.0 0.86"/>
<line x1="723.05" y1="225.70" x2="816.71" y2="225.70" stroke="#9090ff" stroke-width="0.8"/>
<line x1="818.14" y1="203.64" x2="911.80" y2="203.64" stroke="#8080ff" stroke-width="2.2"/>
<line x1="818.14" y1="204.24" x2="911.80" y2="204.24" stroke="#1818e0" stroke-width="1.3" stroke-dasharray="1.0 0.86"/>
<line x1="818.14" y1="225.70" x2="911.80" y2="225.70" stroke="#9090ff" stroke-width="0.8"/>
<line x1="913.23" y1="203.64" x2="1006.89" y2="203.64" stroke="#8080ff" stroke-width="2.2"/>
<line x1="913.23" y1="204.24" x2="1006.89" y2="204.24" stroke="#1818e0" stroke-width="1.3" stroke-dasharray="1.0 0.86"/>
<line x1="913.23" y1="225.70" x2="1006.89" y2="225.70" stroke="#9090ff" stroke-width="0.8"/>
<line x1="1008.32" y1="203.64" x2="1101.98" y2="203.64" stroke="#8080ff" stroke-width="2.2"/>
<line x1="1008.32" y1="204.24" x2="1101.98" y2="204.24" stroke="#1818e0" stroke-width="1.3" stroke-dasharray="1.0 0.86"/>
<line x1="1008.32" y1="225.70" x2="1101.98" y2="225.70" stroke="#9090ff" stroke-width="0.8"/>
<line x1="1103.41" y1="203.64" x2="1187.75" y2="203.64" stroke="#8080ff" stroke-width="2.2"/>
<line x1="1103.41" y1="204.24" x2="1187.75" y2="204.24" stroke="#1818e0" stroke-width="1.3" stroke-dasharray="1.0 0.86"/>
<line x1="1103.41" y1="225.70" x2="1187.75" y2="225.70" stroke="#9090ff" stroke-width="0.8"/>
<path d="M722.19,226.2V299.9M817.28,226.2V299.9M912.37,226.2V299.9M1007.46,226.2V299.9M1102.55,226.2V299.9" stroke="#d81818" stroke-width="1.8" fill="none"/>
<text x="871.7" y="198.7" font-size="9.8" font-family="Liberation Sans, Arial, sans-serif" font-weight="bold" fill="#0a0aff" stroke="#0a0aff" stroke-width="0.3" textLength="76.5" lengthAdjust="spacingAndGlyphs">Evaluation pulses</text>
<text x="819.6" y="270.1" font-size="9.6" font-family="Liberation Sans, Arial, sans-serif" font-weight="bold" fill="#e01414" stroke="#e01414" stroke-width="0.3" textLength="90.8" lengthAdjust="spacingAndGlyphs">Programming pulses</text>
<rect x="629.5" y="177.0" width="557.5" height="147.3" fill="none" stroke="#000" stroke-width="1.9"/>
<path d="M720.3,324.3v-5M720.3,177.0v5M813.6,324.3v-5M813.6,177.0v5M906.8,324.3v-5M906.8,177.0v5M1000.0,324.3v-5M1000.0,177.0v5M1093.2,324.3v-5M1093.2,177.0v5M629.5,226.2h5M1186.7,226.2h-5M629.5,275.4h5M1186.7,275.4h-5" stroke="#777" stroke-width="1" fill="none"/>
<text transform="translate(626.9,182.5) scale(1.17,1)" font-size="15.5" font-family="Liberation Sans, Arial, sans-serif" text-anchor="end" fill="#000">2</text>
<text transform="translate(626.9,231.5) scale(1.17,1)" font-size="15.5" font-family="Liberation Sans, Arial, sans-serif" text-anchor="end" fill="#000">0</text>
<text transform="translate(626.5,280.6) scale(1.17,1)" font-size="15.5" font-family="Liberation Sans, Arial, sans-serif" text-anchor="end" fill="#000">−2</text>
<text transform="translate(627.2,330.7) scale(1.17,1)" font-size="15.5" font-family="Liberation Sans, Arial, sans-serif" text-anchor="end" fill="#000">−4</text>
<text transform="translate(720.2,342.9) scale(1.17,1)" font-size="15.5" font-family="Liberation Sans, Arial, sans-serif" text-anchor="middle" fill="#000">50</text>
<text transform="translate(814,342.9) scale(1.17,1)" font-size="15.5" font-family="Liberation Sans, Arial, sans-serif" text-anchor="middle" fill="#000">100</text>
<text transform="translate(907.3,342.9) scale(1.17,1)" font-size="15.5" font-family="Liberation Sans, Arial, sans-serif" text-anchor="middle" fill="#000">150</text>
<text transform="translate(1000.6,342.9) scale(1.17,1)" font-size="15.5" font-family="Liberation Sans, Arial, sans-serif" text-anchor="middle" fill="#000">200</text>
<text transform="translate(1093.9,342.9) scale(1.17,1)" font-size="15.5" font-family="Liberation Sans, Arial, sans-serif" text-anchor="middle" fill="#000">250</text>
<text transform="translate(1187,342.9) scale(1.17,1)" font-size="15.5" font-family="Liberation Sans, Arial, sans-serif" text-anchor="middle" fill="#000">300</text>
<text x="907.9" y="358.6" font-size="16.6" font-family="Liberation Sans, Arial, sans-serif" text-anchor="middle" fill="#000" textLength="103.4" lengthAdjust="spacingAndGlyphs">Pulse number</text>
<text transform="translate(600.2,250.3) rotate(-90) scale(1,1.17)" x="0" y="0" font-size="14.2" font-family="Liberation Sans, Arial, sans-serif" text-anchor="middle" fill="#000" textLength="119.2" lengthAdjust="spacingAndGlyphs">Voltage bias (V)</text>
<text x="635" y="315.2" font-size="18.4" font-family="Liberation Sans, Arial, sans-serif" fill="#000" textLength="22.6" lengthAdjust="spacingAndGlyphs">(b)</text>
<text x="242.4" y="411" font-size="36" font-family="Liberation Serif, Times New Roman, serif" fill="#000">(</text>
<text transform="translate(253.6,409.3) scale(1.1,1)" font-size="30" font-family="Liberation Serif, Times New Roman, serif" fill="#000" stroke="#000" stroke-width="1.0">a</text>
<text x="267.6" y="411" font-size="36" font-family="Liberation Serif, Times New Roman, serif" fill="#000">)</text>
<text x="873.0" y="411" font-size="36" font-family="Liberation Serif, Times New Roman, serif" fill="#000">(</text>
<text transform="translate(885.5,409.3) scale(1.1,1)" font-size="30" font-family="Liberation Serif, Times New Roman, serif" fill="#000" stroke="#000" stroke-width="1.0">b</text>
<text x="902.0" y="411" font-size="36" font-family="Liberation Serif, Times New Roman, serif" fill="#000">)</text>
</svg>
</body></html>
